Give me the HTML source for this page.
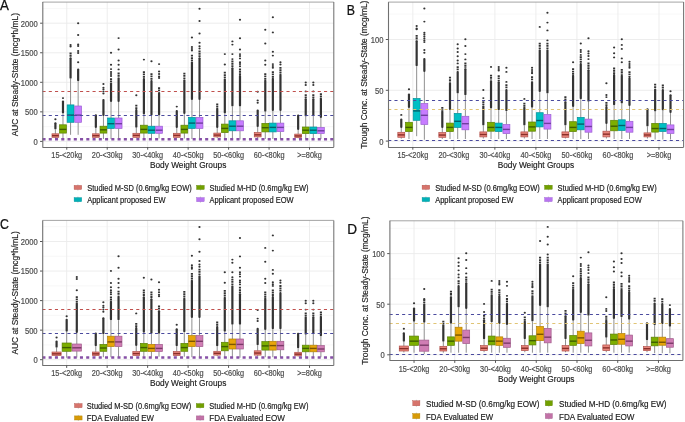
<!DOCTYPE html>
<html><head><meta charset="utf-8"><style>
html,body{margin:0;padding:0;background:#fff;width:685px;height:422px;overflow:hidden}
svg{display:block;font-family:"Liberation Sans", sans-serif}
svg{will-change:transform}
</style></head><body>
<svg width="685" height="422" viewBox="0 0 685 422">
<rect width="685" height="422" fill="#fff"/>
<rect x="42.5" y="2.1" width="291.3" height="145.2" fill="#fff"/>
<line x1="42.5" x2="333.8" y1="126.62" y2="126.62" stroke="#F2F2F2" stroke-width="0.6"/>
<line x1="42.5" x2="333.8" y1="97.08" y2="97.08" stroke="#F2F2F2" stroke-width="0.6"/>
<line x1="42.5" x2="333.8" y1="67.53" y2="67.53" stroke="#F2F2F2" stroke-width="0.6"/>
<line x1="42.5" x2="333.8" y1="37.98" y2="37.98" stroke="#F2F2F2" stroke-width="0.6"/>
<line x1="42.5" x2="333.8" y1="8.43" y2="8.43" stroke="#F2F2F2" stroke-width="0.6"/>
<line x1="42.5" x2="333.8" y1="141.4" y2="141.4" stroke="#EBEBEB" stroke-width="0.9"/>
<line x1="42.5" x2="333.8" y1="111.85" y2="111.85" stroke="#EBEBEB" stroke-width="0.9"/>
<line x1="42.5" x2="333.8" y1="82.3" y2="82.3" stroke="#EBEBEB" stroke-width="0.9"/>
<line x1="42.5" x2="333.8" y1="52.75" y2="52.75" stroke="#EBEBEB" stroke-width="0.9"/>
<line x1="42.5" x2="333.8" y1="23.2" y2="23.2" stroke="#EBEBEB" stroke-width="0.9"/>
<line x1="66.78" x2="66.78" y1="2.1" y2="147.3" stroke="#EBEBEB" stroke-width="0.9"/>
<line x1="107.23" x2="107.23" y1="2.1" y2="147.3" stroke="#EBEBEB" stroke-width="0.9"/>
<line x1="147.69" x2="147.69" y1="2.1" y2="147.3" stroke="#EBEBEB" stroke-width="0.9"/>
<line x1="188.15" x2="188.15" y1="2.1" y2="147.3" stroke="#EBEBEB" stroke-width="0.9"/>
<line x1="228.61" x2="228.61" y1="2.1" y2="147.3" stroke="#EBEBEB" stroke-width="0.9"/>
<line x1="269.07" x2="269.07" y1="2.1" y2="147.3" stroke="#EBEBEB" stroke-width="0.9"/>
<line x1="309.52" x2="309.52" y1="2.1" y2="147.3" stroke="#EBEBEB" stroke-width="0.9"/>
<rect x="54.3" y="122.3" width="2.2" height="7.2" rx="1" fill="#333"/>
<ellipse cx="55.4" cy="119.3" rx="1.1" ry="0.95" fill="#333"/>
<line x1="55.4" x2="55.4" y1="133.8" y2="129.5" stroke="#8A8A8A" stroke-width="0.95"/>
<line x1="55.4" x2="55.4" y1="137.3" y2="138.2" stroke="#8A8A8A" stroke-width="0.95"/>
<rect x="51.98" y="133.8" width="6.83" height="3.5" fill="#E8847A" stroke="#B0504A" stroke-width="0.7"/>
<line x1="51.98" x2="58.81" y1="135.65" y2="135.65" stroke="#8A2E28" stroke-width="1.4"/>
<rect x="61.88" y="100.6" width="2.2" height="12.9" rx="1" fill="#333"/>
<ellipse cx="62.98" cy="98.1" rx="1.1" ry="0.95" fill="#333"/>
<line x1="62.98" x2="62.98" y1="124.8" y2="113.5" stroke="#8A8A8A" stroke-width="0.95"/>
<line x1="62.98" x2="62.98" y1="133.1" y2="139.5" stroke="#8A8A8A" stroke-width="0.95"/>
<rect x="59.57" y="124.8" width="6.83" height="8.3" fill="#7CAE00" stroke="#5A8000" stroke-width="0.7"/>
<line x1="59.57" x2="66.4" y1="129.4" y2="129.4" stroke="#3E5C00" stroke-width="1.4"/>
<rect x="69.47" y="57.2" width="2.2" height="21.51" rx="1" fill="#333"/>
<line x1="70.57" x2="70.57" y1="52.6" y2="57.2" stroke="#333" stroke-width="2.1" stroke-dasharray="1.8 0.55"/>
<ellipse cx="70.57" cy="45" rx="1.1" ry="0.95" fill="#333"/>
<ellipse cx="70.57" cy="46.5" rx="1.1" ry="0.95" fill="#333"/>
<line x1="70.57" x2="70.57" y1="104.9" y2="78.7" stroke="#8A8A8A" stroke-width="0.95"/>
<line x1="70.57" x2="70.57" y1="122.3" y2="134.8" stroke="#8A8A8A" stroke-width="0.95"/>
<rect x="67.15" y="104.9" width="6.83" height="17.4" fill="#00BFC4" stroke="#00909A" stroke-width="0.7"/>
<line x1="67.15" x2="73.98" y1="115.1" y2="115.1" stroke="#00606A" stroke-width="1.4"/>
<rect x="77.05" y="68.4" width="2.2" height="12.8" rx="1" fill="#333"/>
<ellipse cx="78.15" cy="23.3" rx="1.1" ry="0.95" fill="#333"/>
<ellipse cx="78.15" cy="35" rx="1.1" ry="0.95" fill="#333"/>
<ellipse cx="78.15" cy="44.5" rx="1.1" ry="0.95" fill="#333"/>
<ellipse cx="78.15" cy="46" rx="1.1" ry="0.95" fill="#333"/>
<ellipse cx="78.15" cy="51" rx="1.1" ry="0.95" fill="#333"/>
<ellipse cx="78.15" cy="53" rx="1.1" ry="0.95" fill="#333"/>
<ellipse cx="78.15" cy="62.3" rx="1.1" ry="0.95" fill="#333"/>
<line x1="78.15" x2="78.15" y1="106" y2="81.2" stroke="#8A8A8A" stroke-width="0.95"/>
<line x1="78.15" x2="78.15" y1="122.3" y2="134.8" stroke="#8A8A8A" stroke-width="0.95"/>
<rect x="74.74" y="106" width="6.83" height="16.3" fill="#C77CFF" stroke="#9A60D0" stroke-width="0.7"/>
<line x1="74.74" x2="81.57" y1="115.1" y2="115.1" stroke="#6E3E9E" stroke-width="1.4"/>
<rect x="94.75" y="114.3" width="2.2" height="13.7" rx="1" fill="#333"/>
<line x1="95.85" x2="95.85" y1="133.8" y2="128" stroke="#8A8A8A" stroke-width="0.95"/>
<line x1="95.85" x2="95.85" y1="137.3" y2="138" stroke="#8A8A8A" stroke-width="0.95"/>
<rect x="92.44" y="133.8" width="6.83" height="3.5" fill="#E8847A" stroke="#B0504A" stroke-width="0.7"/>
<line x1="92.44" x2="99.27" y1="135.65" y2="135.65" stroke="#8A2E28" stroke-width="1.4"/>
<rect x="102.34" y="99" width="2.2" height="17" rx="1" fill="#333"/>
<ellipse cx="103.44" cy="93.5" rx="1.1" ry="0.95" fill="#333"/>
<ellipse cx="103.44" cy="91.4" rx="1.1" ry="0.95" fill="#333"/>
<ellipse cx="103.44" cy="89.3" rx="1.1" ry="0.95" fill="#333"/>
<ellipse cx="103.44" cy="87.6" rx="1.1" ry="0.95" fill="#333"/>
<ellipse cx="103.44" cy="84" rx="1.1" ry="0.95" fill="#333"/>
<line x1="103.44" x2="103.44" y1="126.2" y2="116" stroke="#8A8A8A" stroke-width="0.95"/>
<line x1="103.44" x2="103.44" y1="133.1" y2="139" stroke="#8A8A8A" stroke-width="0.95"/>
<rect x="100.03" y="126.2" width="6.83" height="6.9" fill="#7CAE00" stroke="#5A8000" stroke-width="0.7"/>
<line x1="100.03" x2="106.85" y1="129.8" y2="129.8" stroke="#3E5C00" stroke-width="1.4"/>
<rect x="109.93" y="82.45" width="2.2" height="19.55" rx="1" fill="#333"/>
<line x1="111.03" x2="111.03" y1="78.2" y2="82.45" stroke="#333" stroke-width="2.1" stroke-dasharray="1.8 0.55"/>
<ellipse cx="111.03" cy="52.7" rx="1.1" ry="0.95" fill="#333"/>
<ellipse cx="111.03" cy="64.8" rx="1.1" ry="0.95" fill="#333"/>
<ellipse cx="111.03" cy="69.1" rx="1.1" ry="0.95" fill="#333"/>
<ellipse cx="111.03" cy="72" rx="1.1" ry="0.95" fill="#333"/>
<ellipse cx="111.03" cy="74" rx="1.1" ry="0.95" fill="#333"/>
<ellipse cx="111.03" cy="76" rx="1.1" ry="0.95" fill="#333"/>
<line x1="111.03" x2="111.03" y1="118" y2="102" stroke="#8A8A8A" stroke-width="0.95"/>
<line x1="111.03" x2="111.03" y1="128.4" y2="139" stroke="#8A8A8A" stroke-width="0.95"/>
<rect x="107.61" y="118" width="6.83" height="10.4" fill="#00BFC4" stroke="#00909A" stroke-width="0.7"/>
<line x1="107.61" x2="114.44" y1="123.7" y2="123.7" stroke="#00606A" stroke-width="1.4"/>
<rect x="117.51" y="77.61" width="2.2" height="24.4" rx="1" fill="#333"/>
<line x1="118.61" x2="118.61" y1="72.5" y2="77.61" stroke="#333" stroke-width="2.1" stroke-dasharray="1.8 0.55"/>
<ellipse cx="118.61" cy="38.1" rx="1.1" ry="0.95" fill="#333"/>
<ellipse cx="118.61" cy="49.5" rx="1.1" ry="0.95" fill="#333"/>
<ellipse cx="118.61" cy="60.5" rx="1.1" ry="0.95" fill="#333"/>
<ellipse cx="118.61" cy="64.8" rx="1.1" ry="0.95" fill="#333"/>
<ellipse cx="118.61" cy="69.4" rx="1.1" ry="0.95" fill="#333"/>
<line x1="118.61" x2="118.61" y1="118" y2="102" stroke="#8A8A8A" stroke-width="0.95"/>
<line x1="118.61" x2="118.61" y1="128.4" y2="139" stroke="#8A8A8A" stroke-width="0.95"/>
<rect x="115.2" y="118" width="6.83" height="10.4" fill="#C77CFF" stroke="#9A60D0" stroke-width="0.7"/>
<line x1="115.2" x2="122.03" y1="123.7" y2="123.7" stroke="#6E3E9E" stroke-width="1.4"/>
<rect x="135.21" y="108.91" width="2.2" height="18.79" rx="1" fill="#333"/>
<line x1="136.31" x2="136.31" y1="104.8" y2="108.91" stroke="#333" stroke-width="2.1" stroke-dasharray="1.8 0.55"/>
<ellipse cx="136.31" cy="95.2" rx="1.1" ry="0.95" fill="#333"/>
<line x1="136.31" x2="136.31" y1="133.3" y2="127.7" stroke="#8A8A8A" stroke-width="0.95"/>
<line x1="136.31" x2="136.31" y1="137.3" y2="138" stroke="#8A8A8A" stroke-width="0.95"/>
<rect x="132.9" y="133.3" width="6.83" height="4" fill="#E8847A" stroke="#B0504A" stroke-width="0.7"/>
<line x1="132.9" x2="139.73" y1="135.4" y2="135.4" stroke="#8A2E28" stroke-width="1.4"/>
<rect x="142.8" y="78" width="2.2" height="36.5" rx="1" fill="#333"/>
<line x1="143.9" x2="143.9" y1="71.2" y2="78" stroke="#333" stroke-width="2.1" stroke-dasharray="1.8 0.55"/>
<ellipse cx="143.9" cy="59.6" rx="1.1" ry="0.95" fill="#333"/>
<line x1="143.9" x2="143.9" y1="125.2" y2="114.5" stroke="#8A8A8A" stroke-width="0.95"/>
<line x1="143.9" x2="143.9" y1="133.1" y2="138.5" stroke="#8A8A8A" stroke-width="0.95"/>
<rect x="140.49" y="125.2" width="6.83" height="7.9" fill="#7CAE00" stroke="#5A8000" stroke-width="0.7"/>
<line x1="140.49" x2="147.31" y1="129.4" y2="129.4" stroke="#3E5C00" stroke-width="1.4"/>
<rect x="150.38" y="80" width="2.2" height="35.5" rx="1" fill="#333"/>
<line x1="151.48" x2="151.48" y1="73.2" y2="80" stroke="#333" stroke-width="2.1" stroke-dasharray="1.8 0.55"/>
<ellipse cx="151.48" cy="61.3" rx="1.1" ry="0.95" fill="#333"/>
<line x1="151.48" x2="151.48" y1="126.2" y2="115.5" stroke="#8A8A8A" stroke-width="0.95"/>
<line x1="151.48" x2="151.48" y1="133.3" y2="138.5" stroke="#8A8A8A" stroke-width="0.95"/>
<rect x="148.07" y="126.2" width="6.83" height="7.1" fill="#00BFC4" stroke="#00909A" stroke-width="0.7"/>
<line x1="148.07" x2="154.9" y1="130.2" y2="130.2" stroke="#00606A" stroke-width="1.4"/>
<rect x="157.97" y="92.12" width="2.2" height="23.38" rx="1" fill="#333"/>
<line x1="159.07" x2="159.07" y1="87.2" y2="92.12" stroke="#333" stroke-width="2.1" stroke-dasharray="1.8 0.55"/>
<ellipse cx="159.07" cy="64.1" rx="1.1" ry="0.95" fill="#333"/>
<ellipse cx="159.07" cy="71.5" rx="1.1" ry="0.95" fill="#333"/>
<ellipse cx="159.07" cy="74" rx="1.1" ry="0.95" fill="#333"/>
<ellipse cx="159.07" cy="76.5" rx="1.1" ry="0.95" fill="#333"/>
<ellipse cx="159.07" cy="78" rx="1.1" ry="0.95" fill="#333"/>
<line x1="159.07" x2="159.07" y1="126.2" y2="115.5" stroke="#8A8A8A" stroke-width="0.95"/>
<line x1="159.07" x2="159.07" y1="133.3" y2="138.5" stroke="#8A8A8A" stroke-width="0.95"/>
<rect x="155.66" y="126.2" width="6.83" height="7.1" fill="#C77CFF" stroke="#9A60D0" stroke-width="0.7"/>
<line x1="155.66" x2="162.48" y1="130.2" y2="130.2" stroke="#6E3E9E" stroke-width="1.4"/>
<rect x="175.67" y="110" width="2.2" height="18" rx="1" fill="#333"/>
<ellipse cx="176.77" cy="106.6" rx="1.1" ry="0.95" fill="#333"/>
<line x1="176.77" x2="176.77" y1="133.3" y2="128" stroke="#8A8A8A" stroke-width="0.95"/>
<line x1="176.77" x2="176.77" y1="137.3" y2="138" stroke="#8A8A8A" stroke-width="0.95"/>
<rect x="173.36" y="133.3" width="6.83" height="4" fill="#E8847A" stroke="#B0504A" stroke-width="0.7"/>
<line x1="173.36" x2="180.18" y1="135.4" y2="135.4" stroke="#8A2E28" stroke-width="1.4"/>
<rect x="183.26" y="79.5" width="2.2" height="34.6" rx="1" fill="#333"/>
<line x1="184.36" x2="184.36" y1="72.7" y2="79.5" stroke="#333" stroke-width="2.1" stroke-dasharray="1.8 0.55"/>
<line x1="184.36" x2="184.36" y1="125.2" y2="114.1" stroke="#8A8A8A" stroke-width="0.95"/>
<line x1="184.36" x2="184.36" y1="133.1" y2="138.5" stroke="#8A8A8A" stroke-width="0.95"/>
<rect x="180.94" y="125.2" width="6.83" height="7.9" fill="#7CAE00" stroke="#5A8000" stroke-width="0.7"/>
<line x1="180.94" x2="187.77" y1="129.4" y2="129.4" stroke="#3E5C00" stroke-width="1.4"/>
<rect x="190.84" y="61.6" width="2.2" height="38.3" rx="1" fill="#333"/>
<line x1="191.94" x2="191.94" y1="54.8" y2="61.6" stroke="#333" stroke-width="2.1" stroke-dasharray="1.8 0.55"/>
<ellipse cx="191.94" cy="37.5" rx="1.1" ry="0.95" fill="#333"/>
<ellipse cx="191.94" cy="47" rx="1.1" ry="0.95" fill="#333"/>
<ellipse cx="191.94" cy="49" rx="1.1" ry="0.95" fill="#333"/>
<ellipse cx="191.94" cy="50.6" rx="1.1" ry="0.95" fill="#333"/>
<line x1="191.94" x2="191.94" y1="117.4" y2="99.9" stroke="#8A8A8A" stroke-width="0.95"/>
<line x1="191.94" x2="191.94" y1="128.4" y2="139" stroke="#8A8A8A" stroke-width="0.95"/>
<rect x="188.53" y="117.4" width="6.83" height="11" fill="#00BFC4" stroke="#00909A" stroke-width="0.7"/>
<line x1="188.53" x2="195.36" y1="123.1" y2="123.1" stroke="#00606A" stroke-width="1.4"/>
<rect x="198.43" y="57.3" width="2.2" height="42.6" rx="1" fill="#333"/>
<line x1="199.53" x2="199.53" y1="50.5" y2="57.3" stroke="#333" stroke-width="2.1" stroke-dasharray="1.8 0.55"/>
<ellipse cx="199.53" cy="8.8" rx="1.1" ry="0.95" fill="#333"/>
<ellipse cx="199.53" cy="21" rx="1.1" ry="0.95" fill="#333"/>
<ellipse cx="199.53" cy="33.5" rx="1.1" ry="0.95" fill="#333"/>
<ellipse cx="199.53" cy="42.8" rx="1.1" ry="0.95" fill="#333"/>
<ellipse cx="199.53" cy="46.3" rx="1.1" ry="0.95" fill="#333"/>
<ellipse cx="199.53" cy="48.5" rx="1.1" ry="0.95" fill="#333"/>
<line x1="199.53" x2="199.53" y1="117.4" y2="99.9" stroke="#8A8A8A" stroke-width="0.95"/>
<line x1="199.53" x2="199.53" y1="128.4" y2="139" stroke="#8A8A8A" stroke-width="0.95"/>
<rect x="196.12" y="117.4" width="6.83" height="11" fill="#C77CFF" stroke="#9A60D0" stroke-width="0.7"/>
<line x1="196.12" x2="202.94" y1="123.1" y2="123.1" stroke="#6E3E9E" stroke-width="1.4"/>
<rect x="216.13" y="107.77" width="2.2" height="20.23" rx="1" fill="#333"/>
<line x1="217.23" x2="217.23" y1="103.4" y2="107.77" stroke="#333" stroke-width="2.1" stroke-dasharray="1.8 0.55"/>
<line x1="217.23" x2="217.23" y1="133.1" y2="128" stroke="#8A8A8A" stroke-width="0.95"/>
<line x1="217.23" x2="217.23" y1="136.9" y2="138" stroke="#8A8A8A" stroke-width="0.95"/>
<rect x="213.82" y="133.1" width="6.83" height="3.8" fill="#E8847A" stroke="#B0504A" stroke-width="0.7"/>
<line x1="213.82" x2="220.64" y1="135.1" y2="135.1" stroke="#8A2E28" stroke-width="1.4"/>
<rect x="223.72" y="78.6" width="2.2" height="34.9" rx="1" fill="#333"/>
<line x1="224.82" x2="224.82" y1="71.8" y2="78.6" stroke="#333" stroke-width="2.1" stroke-dasharray="1.8 0.55"/>
<ellipse cx="224.82" cy="54.1" rx="1.1" ry="0.95" fill="#333"/>
<ellipse cx="224.82" cy="64.5" rx="1.1" ry="0.95" fill="#333"/>
<line x1="224.82" x2="224.82" y1="124.1" y2="113.5" stroke="#8A8A8A" stroke-width="0.95"/>
<line x1="224.82" x2="224.82" y1="132.6" y2="139" stroke="#8A8A8A" stroke-width="0.95"/>
<rect x="221.4" y="124.1" width="6.83" height="8.5" fill="#7CAE00" stroke="#5A8000" stroke-width="0.7"/>
<line x1="221.4" x2="228.23" y1="128.4" y2="128.4" stroke="#3E5C00" stroke-width="1.4"/>
<rect x="231.3" y="67.3" width="2.2" height="39.2" rx="1" fill="#333"/>
<line x1="232.4" x2="232.4" y1="60.5" y2="67.3" stroke="#333" stroke-width="2.1" stroke-dasharray="1.8 0.55"/>
<ellipse cx="232.4" cy="41.4" rx="1.1" ry="0.95" fill="#333"/>
<ellipse cx="232.4" cy="44.6" rx="1.1" ry="0.95" fill="#333"/>
<ellipse cx="232.4" cy="54.1" rx="1.1" ry="0.95" fill="#333"/>
<ellipse cx="232.4" cy="59.1" rx="1.1" ry="0.95" fill="#333"/>
<line x1="232.4" x2="232.4" y1="120.8" y2="106.5" stroke="#8A8A8A" stroke-width="0.95"/>
<line x1="232.4" x2="232.4" y1="130.8" y2="139.5" stroke="#8A8A8A" stroke-width="0.95"/>
<rect x="228.99" y="120.8" width="6.83" height="10" fill="#00BFC4" stroke="#00909A" stroke-width="0.7"/>
<line x1="228.99" x2="235.81" y1="126.2" y2="126.2" stroke="#00606A" stroke-width="1.4"/>
<rect x="238.89" y="74.97" width="2.2" height="31.53" rx="1" fill="#333"/>
<line x1="239.99" x2="239.99" y1="68.6" y2="74.97" stroke="#333" stroke-width="2.1" stroke-dasharray="1.8 0.55"/>
<ellipse cx="239.99" cy="19.8" rx="1.1" ry="0.95" fill="#333"/>
<ellipse cx="239.99" cy="38.2" rx="1.1" ry="0.95" fill="#333"/>
<ellipse cx="239.99" cy="49.5" rx="1.1" ry="0.95" fill="#333"/>
<ellipse cx="239.99" cy="54.1" rx="1.1" ry="0.95" fill="#333"/>
<ellipse cx="239.99" cy="56" rx="1.1" ry="0.95" fill="#333"/>
<ellipse cx="239.99" cy="58.4" rx="1.1" ry="0.95" fill="#333"/>
<ellipse cx="239.99" cy="62.3" rx="1.1" ry="0.95" fill="#333"/>
<ellipse cx="239.99" cy="64" rx="1.1" ry="0.95" fill="#333"/>
<ellipse cx="239.99" cy="66.2" rx="1.1" ry="0.95" fill="#333"/>
<line x1="239.99" x2="239.99" y1="120.8" y2="106.5" stroke="#8A8A8A" stroke-width="0.95"/>
<line x1="239.99" x2="239.99" y1="130.8" y2="139.5" stroke="#8A8A8A" stroke-width="0.95"/>
<rect x="236.57" y="120.8" width="6.83" height="10" fill="#C77CFF" stroke="#9A60D0" stroke-width="0.7"/>
<line x1="236.57" x2="243.4" y1="126.2" y2="126.2" stroke="#6E3E9E" stroke-width="1.4"/>
<rect x="256.59" y="109.5" width="2.2" height="17.5" rx="1" fill="#333"/>
<ellipse cx="257.69" cy="91.8" rx="1.1" ry="0.95" fill="#333"/>
<ellipse cx="257.69" cy="100.4" rx="1.1" ry="0.95" fill="#333"/>
<ellipse cx="257.69" cy="102.8" rx="1.1" ry="0.95" fill="#333"/>
<line x1="257.69" x2="257.69" y1="132.6" y2="127" stroke="#8A8A8A" stroke-width="0.95"/>
<line x1="257.69" x2="257.69" y1="136.9" y2="138" stroke="#8A8A8A" stroke-width="0.95"/>
<rect x="254.27" y="132.6" width="6.83" height="4.3" fill="#E8847A" stroke="#B0504A" stroke-width="0.7"/>
<line x1="254.27" x2="261.1" y1="134.85" y2="134.85" stroke="#8A2E28" stroke-width="1.4"/>
<rect x="264.17" y="79.66" width="2.2" height="32.05" rx="1" fill="#333"/>
<line x1="265.27" x2="265.27" y1="73.2" y2="79.66" stroke="#333" stroke-width="2.1" stroke-dasharray="1.8 0.55"/>
<ellipse cx="265.27" cy="29.7" rx="1.1" ry="0.95" fill="#333"/>
<ellipse cx="265.27" cy="43.5" rx="1.1" ry="0.95" fill="#333"/>
<ellipse cx="265.27" cy="60.5" rx="1.1" ry="0.95" fill="#333"/>
<ellipse cx="265.27" cy="64.8" rx="1.1" ry="0.95" fill="#333"/>
<line x1="265.27" x2="265.27" y1="123.4" y2="111.7" stroke="#8A8A8A" stroke-width="0.95"/>
<line x1="265.27" x2="265.27" y1="131.9" y2="139" stroke="#8A8A8A" stroke-width="0.95"/>
<rect x="261.86" y="123.4" width="6.83" height="8.5" fill="#7CAE00" stroke="#5A8000" stroke-width="0.7"/>
<line x1="261.86" x2="268.69" y1="127.7" y2="127.7" stroke="#3E5C00" stroke-width="1.4"/>
<rect x="271.76" y="77.85" width="2.2" height="33.15" rx="1" fill="#333"/>
<line x1="272.86" x2="272.86" y1="71.2" y2="77.85" stroke="#333" stroke-width="2.1" stroke-dasharray="1.8 0.55"/>
<ellipse cx="272.86" cy="17.2" rx="1.1" ry="0.95" fill="#333"/>
<ellipse cx="272.86" cy="32.4" rx="1.1" ry="0.95" fill="#333"/>
<ellipse cx="272.86" cy="51.7" rx="1.1" ry="0.95" fill="#333"/>
<ellipse cx="272.86" cy="55.6" rx="1.1" ry="0.95" fill="#333"/>
<ellipse cx="272.86" cy="64.1" rx="1.1" ry="0.95" fill="#333"/>
<ellipse cx="272.86" cy="66" rx="1.1" ry="0.95" fill="#333"/>
<ellipse cx="272.86" cy="67.7" rx="1.1" ry="0.95" fill="#333"/>
<line x1="272.86" x2="272.86" y1="123.1" y2="111" stroke="#8A8A8A" stroke-width="0.95"/>
<line x1="272.86" x2="272.86" y1="131.9" y2="139" stroke="#8A8A8A" stroke-width="0.95"/>
<rect x="269.45" y="123.1" width="6.83" height="8.8" fill="#00BFC4" stroke="#00909A" stroke-width="0.7"/>
<line x1="269.45" x2="276.27" y1="127.4" y2="127.4" stroke="#00606A" stroke-width="1.4"/>
<rect x="279.35" y="73.7" width="2.2" height="37.3" rx="1" fill="#333"/>
<line x1="280.45" x2="280.45" y1="66.9" y2="73.7" stroke="#333" stroke-width="2.1" stroke-dasharray="1.8 0.55"/>
<ellipse cx="280.45" cy="62.3" rx="1.1" ry="0.95" fill="#333"/>
<ellipse cx="280.45" cy="64.5" rx="1.1" ry="0.95" fill="#333"/>
<line x1="280.45" x2="280.45" y1="123.1" y2="111" stroke="#8A8A8A" stroke-width="0.95"/>
<line x1="280.45" x2="280.45" y1="131.6" y2="139" stroke="#8A8A8A" stroke-width="0.95"/>
<rect x="277.03" y="123.1" width="6.83" height="8.5" fill="#C77CFF" stroke="#9A60D0" stroke-width="0.7"/>
<line x1="277.03" x2="283.86" y1="127.4" y2="127.4" stroke="#6E3E9E" stroke-width="1.4"/>
<rect x="297.05" y="114.5" width="2.2" height="15.5" rx="1" fill="#333"/>
<line x1="298.15" x2="298.15" y1="134.1" y2="130" stroke="#8A8A8A" stroke-width="0.95"/>
<line x1="298.15" x2="298.15" y1="137.6" y2="138.3" stroke="#8A8A8A" stroke-width="0.95"/>
<rect x="294.73" y="134.1" width="6.83" height="3.5" fill="#E8847A" stroke="#B0504A" stroke-width="0.7"/>
<line x1="294.73" x2="301.56" y1="135.95" y2="135.95" stroke="#8A2E28" stroke-width="1.4"/>
<rect x="304.63" y="98.22" width="2.2" height="18.27" rx="1" fill="#333"/>
<line x1="305.73" x2="305.73" y1="94.2" y2="98.22" stroke="#333" stroke-width="2.1" stroke-dasharray="1.8 0.55"/>
<ellipse cx="305.73" cy="82.5" rx="1.1" ry="0.95" fill="#333"/>
<ellipse cx="305.73" cy="85" rx="1.1" ry="0.95" fill="#333"/>
<ellipse cx="305.73" cy="91.4" rx="1.1" ry="0.95" fill="#333"/>
<line x1="305.73" x2="305.73" y1="127" y2="116.5" stroke="#8A8A8A" stroke-width="0.95"/>
<line x1="305.73" x2="305.73" y1="133.6" y2="139" stroke="#8A8A8A" stroke-width="0.95"/>
<rect x="302.32" y="127" width="6.83" height="6.6" fill="#7CAE00" stroke="#5A8000" stroke-width="0.7"/>
<line x1="302.32" x2="309.15" y1="130.2" y2="130.2" stroke="#3E5C00" stroke-width="1.4"/>
<rect x="312.22" y="98.15" width="2.2" height="17.85" rx="1" fill="#333"/>
<line x1="313.32" x2="313.32" y1="94.2" y2="98.15" stroke="#333" stroke-width="2.1" stroke-dasharray="1.8 0.55"/>
<ellipse cx="313.32" cy="82.5" rx="1.1" ry="0.95" fill="#333"/>
<ellipse cx="313.32" cy="85" rx="1.1" ry="0.95" fill="#333"/>
<ellipse cx="313.32" cy="91.4" rx="1.1" ry="0.95" fill="#333"/>
<line x1="313.32" x2="313.32" y1="127" y2="116" stroke="#8A8A8A" stroke-width="0.95"/>
<line x1="313.32" x2="313.32" y1="133.6" y2="139" stroke="#8A8A8A" stroke-width="0.95"/>
<rect x="309.9" y="127" width="6.83" height="6.6" fill="#00BFC4" stroke="#00909A" stroke-width="0.7"/>
<line x1="309.9" x2="316.73" y1="130.2" y2="130.2" stroke="#00606A" stroke-width="1.4"/>
<rect x="319.8" y="97.6" width="2.2" height="20.4" rx="1" fill="#333"/>
<line x1="320.9" x2="320.9" y1="93.2" y2="97.6" stroke="#333" stroke-width="2.1" stroke-dasharray="1.8 0.55"/>
<line x1="320.9" x2="320.9" y1="127.4" y2="118" stroke="#8A8A8A" stroke-width="0.95"/>
<line x1="320.9" x2="320.9" y1="133.6" y2="139" stroke="#8A8A8A" stroke-width="0.95"/>
<rect x="317.49" y="127.4" width="6.83" height="6.2" fill="#C77CFF" stroke="#9A60D0" stroke-width="0.7"/>
<line x1="317.49" x2="324.32" y1="130.8" y2="130.8" stroke="#6E3E9E" stroke-width="1.4"/>
<line x1="42.5" x2="333.8" y1="91.5" y2="91.5" stroke="#C0504D" stroke-width="1.0" stroke-dasharray="3.1 3.156"/>
<line x1="42.5" x2="333.8" y1="115.5" y2="115.5" stroke="#4A4A9E" stroke-width="1.0" stroke-dasharray="3.1 3.156"/>
<line x1="42.5" x2="333.8" y1="139.27" y2="139.27" stroke="#8650A6" stroke-width="2.5" stroke-dasharray="3.05 3.206"/>
<line x1="42.5" x2="333.8" y1="2.1" y2="2.1" stroke="#9A9A9A" stroke-width="0.9"/>
<line x1="333.8" x2="333.8" y1="2.1" y2="147.3" stroke="#727272" stroke-width="1.05"/>
<line x1="42.8" x2="42.8" y1="2.1" y2="147.3" stroke="#707070" stroke-width="1.1"/>
<line x1="42.5" x2="333.8" y1="147.5" y2="147.5" stroke="#6E6E6E" stroke-width="1.1"/>
<line x1="40.1" x2="42.5" y1="141.4" y2="141.4" stroke="#444" stroke-width="0.9"/>
<text transform="translate(37.7,144.8) scale(1,1.12)" font-size="7.6" fill="#4D4D4D" stroke="#4D4D4D" stroke-width="0.18" text-anchor="end">0</text>
<line x1="40.1" x2="42.5" y1="111.85" y2="111.85" stroke="#444" stroke-width="0.9"/>
<text transform="translate(37.7,115.25) scale(1,1.12)" font-size="7.6" fill="#4D4D4D" stroke="#4D4D4D" stroke-width="0.18" text-anchor="end">500</text>
<line x1="40.1" x2="42.5" y1="82.3" y2="82.3" stroke="#444" stroke-width="0.9"/>
<text transform="translate(37.7,85.7) scale(1,1.12)" font-size="7.6" fill="#4D4D4D" stroke="#4D4D4D" stroke-width="0.18" text-anchor="end">1000</text>
<line x1="40.1" x2="42.5" y1="52.75" y2="52.75" stroke="#444" stroke-width="0.9"/>
<text transform="translate(37.7,56.15) scale(1,1.12)" font-size="7.6" fill="#4D4D4D" stroke="#4D4D4D" stroke-width="0.18" text-anchor="end">1500</text>
<line x1="40.1" x2="42.5" y1="23.2" y2="23.2" stroke="#444" stroke-width="0.9"/>
<text transform="translate(37.7,26.6) scale(1,1.12)" font-size="7.6" fill="#4D4D4D" stroke="#4D4D4D" stroke-width="0.18" text-anchor="end">2000</text>
<line x1="66.78" x2="66.78" y1="147.3" y2="149.7" stroke="#444" stroke-width="0.9"/>
<text transform="translate(66.78,158.2) scale(1,1.12)" font-size="7.35" fill="#4D4D4D" stroke="#4D4D4D" stroke-width="0.18" text-anchor="middle">15-&lt;20kg</text>
<line x1="107.23" x2="107.23" y1="147.3" y2="149.7" stroke="#444" stroke-width="0.9"/>
<text transform="translate(107.23,158.2) scale(1,1.12)" font-size="7.35" fill="#4D4D4D" stroke="#4D4D4D" stroke-width="0.18" text-anchor="middle">20-&lt;30kg</text>
<line x1="147.69" x2="147.69" y1="147.3" y2="149.7" stroke="#444" stroke-width="0.9"/>
<text transform="translate(147.69,158.2) scale(1,1.12)" font-size="7.35" fill="#4D4D4D" stroke="#4D4D4D" stroke-width="0.18" text-anchor="middle">30-&lt;40kg</text>
<line x1="188.15" x2="188.15" y1="147.3" y2="149.7" stroke="#444" stroke-width="0.9"/>
<text transform="translate(188.15,158.2) scale(1,1.12)" font-size="7.35" fill="#4D4D4D" stroke="#4D4D4D" stroke-width="0.18" text-anchor="middle">40-&lt;50kg</text>
<line x1="228.61" x2="228.61" y1="147.3" y2="149.7" stroke="#444" stroke-width="0.9"/>
<text transform="translate(228.61,158.2) scale(1,1.12)" font-size="7.35" fill="#4D4D4D" stroke="#4D4D4D" stroke-width="0.18" text-anchor="middle">50-&lt;60kg</text>
<line x1="269.07" x2="269.07" y1="147.3" y2="149.7" stroke="#444" stroke-width="0.9"/>
<text transform="translate(269.07,158.2) scale(1,1.12)" font-size="7.35" fill="#4D4D4D" stroke="#4D4D4D" stroke-width="0.18" text-anchor="middle">60-&lt;80kg</text>
<line x1="309.52" x2="309.52" y1="147.3" y2="149.7" stroke="#444" stroke-width="0.9"/>
<text transform="translate(309.52,158.2) scale(1,1.12)" font-size="7.35" fill="#4D4D4D" stroke="#4D4D4D" stroke-width="0.18" text-anchor="middle">&gt;=80kg</text>
<text x="188.15" y="167.8" font-size="8.3" fill="#1A1A1A" stroke="#1A1A1A" stroke-width="0.15" text-anchor="middle">Body Weight Groups</text>
<text transform="translate(18,74.7) rotate(-90)" x="0" y="0" font-size="8.4" fill="#1A1A1A" stroke="#1A1A1A" stroke-width="0.15" text-anchor="middle">AUC at Steady-State (mcg*h/mL)</text>
<text transform="translate(0.1,9.8) scale(0.95,1)" font-size="14" fill="#111" stroke="#111" stroke-width="0.25">A</text>
<line x1="77.9" x2="77.9" y1="184.4" y2="190.5" stroke="#AAA" stroke-width="0.6"/>
<rect x="74.1" y="185.4" width="7.6" height="4.1" fill="#D7746C" stroke="#B0504A" stroke-width="0.4"/>
<text transform="translate(87.2,190.8) scale(1,1.1)" font-size="7.5" fill="#1A1A1A" stroke="#1A1A1A" stroke-width="0.15">Studied M-SD (0.6mg/kg EOW)</text>
<line x1="200.4" x2="200.4" y1="184.4" y2="190.5" stroke="#AAA" stroke-width="0.6"/>
<rect x="196.6" y="185.4" width="7.6" height="4.1" fill="#72A000" stroke="#5A8000" stroke-width="0.4"/>
<text transform="translate(209.5,190.8) scale(1,1.1)" font-size="7.5" fill="#1A1A1A" stroke="#1A1A1A" stroke-width="0.15">Studied M-HD (0.6mg/kg EW)</text>
<line x1="77.9" x2="77.9" y1="196.6" y2="202.7" stroke="#AAA" stroke-width="0.6"/>
<rect x="74.1" y="197.6" width="7.6" height="4.1" fill="#00B1B7" stroke="#00909A" stroke-width="0.4"/>
<text transform="translate(87.2,203) scale(1,1.1)" font-size="7.5" fill="#1A1A1A" stroke="#1A1A1A" stroke-width="0.15">Applicant proposed EW</text>
<line x1="200.4" x2="200.4" y1="196.6" y2="202.7" stroke="#AAA" stroke-width="0.6"/>
<rect x="196.6" y="197.6" width="7.6" height="4.1" fill="#B974F1" stroke="#9A60D0" stroke-width="0.4"/>
<text transform="translate(209.5,203) scale(1,1.1)" font-size="7.5" fill="#1A1A1A" stroke="#1A1A1A" stroke-width="0.15">Applicant proposed EOW</text>
<rect x="388.2" y="2.1" width="295.4" height="145.2" fill="#fff"/>
<line x1="388.2" x2="683.6" y1="115.7" y2="115.7" stroke="#F2F2F2" stroke-width="0.6"/>
<line x1="388.2" x2="683.6" y1="64.9" y2="64.9" stroke="#F2F2F2" stroke-width="0.6"/>
<line x1="388.2" x2="683.6" y1="14.1" y2="14.1" stroke="#F2F2F2" stroke-width="0.6"/>
<line x1="388.2" x2="683.6" y1="141.1" y2="141.1" stroke="#EBEBEB" stroke-width="0.9"/>
<line x1="388.2" x2="683.6" y1="90.3" y2="90.3" stroke="#EBEBEB" stroke-width="0.9"/>
<line x1="388.2" x2="683.6" y1="39.5" y2="39.5" stroke="#EBEBEB" stroke-width="0.9"/>
<line x1="412.82" x2="412.82" y1="2.1" y2="147.3" stroke="#EBEBEB" stroke-width="0.9"/>
<line x1="453.84" x2="453.84" y1="2.1" y2="147.3" stroke="#EBEBEB" stroke-width="0.9"/>
<line x1="494.87" x2="494.87" y1="2.1" y2="147.3" stroke="#EBEBEB" stroke-width="0.9"/>
<line x1="535.9" x2="535.9" y1="2.1" y2="147.3" stroke="#EBEBEB" stroke-width="0.9"/>
<line x1="576.93" x2="576.93" y1="2.1" y2="147.3" stroke="#EBEBEB" stroke-width="0.9"/>
<line x1="617.96" x2="617.96" y1="2.1" y2="147.3" stroke="#EBEBEB" stroke-width="0.9"/>
<line x1="658.98" x2="658.98" y1="2.1" y2="147.3" stroke="#EBEBEB" stroke-width="0.9"/>
<rect x="400.18" y="118.5" width="2.2" height="9.5" rx="1" fill="#333"/>
<ellipse cx="401.28" cy="114.9" rx="1.1" ry="0.95" fill="#333"/>
<line x1="401.28" x2="401.28" y1="132.3" y2="128" stroke="#8A8A8A" stroke-width="0.95"/>
<line x1="401.28" x2="401.28" y1="137.3" y2="138.7" stroke="#8A8A8A" stroke-width="0.95"/>
<rect x="397.82" y="132.3" width="6.92" height="5" fill="#E8847A" stroke="#B0504A" stroke-width="0.7"/>
<line x1="397.82" x2="404.74" y1="134.9" y2="134.9" stroke="#8A2E28" stroke-width="1.4"/>
<rect x="407.87" y="93.5" width="2.2" height="14.5" rx="1" fill="#333"/>
<ellipse cx="408.97" cy="89.3" rx="1.1" ry="0.95" fill="#333"/>
<line x1="408.97" x2="408.97" y1="122.3" y2="108" stroke="#8A8A8A" stroke-width="0.95"/>
<line x1="408.97" x2="408.97" y1="131.6" y2="139" stroke="#8A8A8A" stroke-width="0.95"/>
<rect x="405.51" y="122.3" width="6.92" height="9.3" fill="#7CAE00" stroke="#5A8000" stroke-width="0.7"/>
<line x1="405.51" x2="412.43" y1="127.4" y2="127.4" stroke="#3E5C00" stroke-width="1.4"/>
<rect x="415.56" y="40.28" width="2.2" height="25.93" rx="1" fill="#333"/>
<line x1="416.66" x2="416.66" y1="34.9" y2="40.28" stroke="#333" stroke-width="2.1" stroke-dasharray="1.8 0.55"/>
<ellipse cx="416.66" cy="26" rx="1.1" ry="0.95" fill="#333"/>
<ellipse cx="416.66" cy="28.5" rx="1.1" ry="0.95" fill="#333"/>
<ellipse cx="416.66" cy="29.3" rx="1.1" ry="0.95" fill="#333"/>
<line x1="416.66" x2="416.66" y1="98.5" y2="66.2" stroke="#8A8A8A" stroke-width="0.95"/>
<line x1="416.66" x2="416.66" y1="120.3" y2="136.2" stroke="#8A8A8A" stroke-width="0.95"/>
<rect x="413.2" y="98.5" width="6.92" height="21.8" fill="#00BFC4" stroke="#00909A" stroke-width="0.7"/>
<line x1="413.2" x2="420.12" y1="110.9" y2="110.9" stroke="#00606A" stroke-width="1.4"/>
<rect x="423.26" y="58" width="2.2" height="14" rx="1" fill="#333"/>
<ellipse cx="424.36" cy="8.5" rx="1.1" ry="0.95" fill="#333"/>
<ellipse cx="424.36" cy="21.6" rx="1.1" ry="0.95" fill="#333"/>
<ellipse cx="424.36" cy="32.8" rx="1.1" ry="0.95" fill="#333"/>
<ellipse cx="424.36" cy="34.5" rx="1.1" ry="0.95" fill="#333"/>
<ellipse cx="424.36" cy="36.5" rx="1.1" ry="0.95" fill="#333"/>
<ellipse cx="424.36" cy="38.5" rx="1.1" ry="0.95" fill="#333"/>
<ellipse cx="424.36" cy="40.5" rx="1.1" ry="0.95" fill="#333"/>
<ellipse cx="424.36" cy="42.1" rx="1.1" ry="0.95" fill="#333"/>
<ellipse cx="424.36" cy="50" rx="1.1" ry="0.95" fill="#333"/>
<ellipse cx="424.36" cy="52.7" rx="1.1" ry="0.95" fill="#333"/>
<line x1="424.36" x2="424.36" y1="103.5" y2="72" stroke="#8A8A8A" stroke-width="0.95"/>
<line x1="424.36" x2="424.36" y1="124.5" y2="139.7" stroke="#8A8A8A" stroke-width="0.95"/>
<rect x="420.89" y="103.5" width="6.92" height="21" fill="#C77CFF" stroke="#9A60D0" stroke-width="0.7"/>
<line x1="420.89" x2="427.82" y1="115.3" y2="115.3" stroke="#6E3E9E" stroke-width="1.4"/>
<rect x="441.21" y="110.75" width="2.2" height="17.25" rx="1" fill="#333"/>
<line x1="442.31" x2="442.31" y1="106.9" y2="110.75" stroke="#333" stroke-width="2.1" stroke-dasharray="1.8 0.55"/>
<line x1="442.31" x2="442.31" y1="132.6" y2="128" stroke="#8A8A8A" stroke-width="0.95"/>
<line x1="442.31" x2="442.31" y1="137.3" y2="139" stroke="#8A8A8A" stroke-width="0.95"/>
<rect x="438.84" y="132.6" width="6.92" height="4.7" fill="#E8847A" stroke="#B0504A" stroke-width="0.7"/>
<line x1="438.84" x2="445.77" y1="135.05" y2="135.05" stroke="#8A2E28" stroke-width="1.4"/>
<rect x="448.9" y="82.46" width="2.2" height="27.54" rx="1" fill="#333"/>
<line x1="450" x2="450" y1="76.8" y2="82.46" stroke="#333" stroke-width="2.1" stroke-dasharray="1.8 0.55"/>
<line x1="450" x2="450" y1="123.1" y2="110" stroke="#8A8A8A" stroke-width="0.95"/>
<line x1="450" x2="450" y1="131.6" y2="139" stroke="#8A8A8A" stroke-width="0.95"/>
<rect x="446.54" y="123.1" width="6.92" height="8.5" fill="#7CAE00" stroke="#5A8000" stroke-width="0.7"/>
<line x1="446.54" x2="453.46" y1="127.4" y2="127.4" stroke="#3E5C00" stroke-width="1.4"/>
<rect x="456.59" y="70.97" width="2.2" height="22.52" rx="1" fill="#333"/>
<line x1="457.69" x2="457.69" y1="66.2" y2="70.97" stroke="#333" stroke-width="2.1" stroke-dasharray="1.8 0.55"/>
<ellipse cx="457.69" cy="44.2" rx="1.1" ry="0.95" fill="#333"/>
<ellipse cx="457.69" cy="48.5" rx="1.1" ry="0.95" fill="#333"/>
<ellipse cx="457.69" cy="52" rx="1.1" ry="0.95" fill="#333"/>
<ellipse cx="457.69" cy="56.3" rx="1.1" ry="0.95" fill="#333"/>
<ellipse cx="457.69" cy="60.5" rx="1.1" ry="0.95" fill="#333"/>
<ellipse cx="457.69" cy="63.4" rx="1.1" ry="0.95" fill="#333"/>
<line x1="457.69" x2="457.69" y1="113.4" y2="93.5" stroke="#8A8A8A" stroke-width="0.95"/>
<line x1="457.69" x2="457.69" y1="127.4" y2="139" stroke="#8A8A8A" stroke-width="0.95"/>
<rect x="454.23" y="113.4" width="6.92" height="14" fill="#00BFC4" stroke="#00909A" stroke-width="0.7"/>
<line x1="454.23" x2="461.15" y1="121.3" y2="121.3" stroke="#00606A" stroke-width="1.4"/>
<rect x="464.28" y="68.17" width="2.2" height="27.03" rx="1" fill="#333"/>
<line x1="465.38" x2="465.38" y1="62.6" y2="68.17" stroke="#333" stroke-width="2.1" stroke-dasharray="1.8 0.55"/>
<ellipse cx="465.38" cy="39.2" rx="1.1" ry="0.95" fill="#333"/>
<ellipse cx="465.38" cy="46" rx="1.1" ry="0.95" fill="#333"/>
<ellipse cx="465.38" cy="54.1" rx="1.1" ry="0.95" fill="#333"/>
<ellipse cx="465.38" cy="59.4" rx="1.1" ry="0.95" fill="#333"/>
<line x1="465.38" x2="465.38" y1="116.3" y2="95.2" stroke="#8A8A8A" stroke-width="0.95"/>
<line x1="465.38" x2="465.38" y1="129.8" y2="139" stroke="#8A8A8A" stroke-width="0.95"/>
<rect x="461.92" y="116.3" width="6.92" height="13.5" fill="#C77CFF" stroke="#9A60D0" stroke-width="0.7"/>
<line x1="461.92" x2="468.85" y1="123.7" y2="123.7" stroke="#6E3E9E" stroke-width="1.4"/>
<rect x="482.23" y="105.53" width="2.2" height="19.98" rx="1" fill="#333"/>
<line x1="483.33" x2="483.33" y1="101.2" y2="105.53" stroke="#333" stroke-width="2.1" stroke-dasharray="1.8 0.55"/>
<ellipse cx="483.33" cy="90" rx="1.1" ry="0.95" fill="#333"/>
<ellipse cx="483.33" cy="98.1" rx="1.1" ry="0.95" fill="#333"/>
<line x1="483.33" x2="483.33" y1="131.9" y2="125.5" stroke="#8A8A8A" stroke-width="0.95"/>
<line x1="483.33" x2="483.33" y1="136.9" y2="138.5" stroke="#8A8A8A" stroke-width="0.95"/>
<rect x="479.87" y="131.9" width="6.92" height="5" fill="#E8847A" stroke="#B0504A" stroke-width="0.7"/>
<line x1="479.87" x2="486.79" y1="134.5" y2="134.5" stroke="#8A2E28" stroke-width="1.4"/>
<rect x="489.93" y="80.45" width="2.2" height="28.05" rx="1" fill="#333"/>
<line x1="491.03" x2="491.03" y1="74.7" y2="80.45" stroke="#333" stroke-width="2.1" stroke-dasharray="1.8 0.55"/>
<ellipse cx="491.03" cy="66.9" rx="1.1" ry="0.95" fill="#333"/>
<line x1="491.03" x2="491.03" y1="122.3" y2="108.5" stroke="#8A8A8A" stroke-width="0.95"/>
<line x1="491.03" x2="491.03" y1="131.2" y2="139" stroke="#8A8A8A" stroke-width="0.95"/>
<rect x="487.56" y="122.3" width="6.92" height="8.9" fill="#7CAE00" stroke="#5A8000" stroke-width="0.7"/>
<line x1="487.56" x2="494.49" y1="127.4" y2="127.4" stroke="#3E5C00" stroke-width="1.4"/>
<rect x="497.62" y="81.14" width="2.2" height="29.15" rx="1" fill="#333"/>
<line x1="498.72" x2="498.72" y1="75.2" y2="81.14" stroke="#333" stroke-width="2.1" stroke-dasharray="1.8 0.55"/>
<ellipse cx="498.72" cy="67" rx="1.1" ry="0.95" fill="#333"/>
<ellipse cx="498.72" cy="69" rx="1.1" ry="0.95" fill="#333"/>
<ellipse cx="498.72" cy="70.5" rx="1.1" ry="0.95" fill="#333"/>
<line x1="498.72" x2="498.72" y1="123.1" y2="110.3" stroke="#8A8A8A" stroke-width="0.95"/>
<line x1="498.72" x2="498.72" y1="131.6" y2="139" stroke="#8A8A8A" stroke-width="0.95"/>
<rect x="495.26" y="123.1" width="6.92" height="8.5" fill="#00BFC4" stroke="#00909A" stroke-width="0.7"/>
<line x1="495.26" x2="502.18" y1="127.4" y2="127.4" stroke="#00606A" stroke-width="1.4"/>
<rect x="505.31" y="88.94" width="2.2" height="22.35" rx="1" fill="#333"/>
<line x1="506.41" x2="506.41" y1="84.2" y2="88.94" stroke="#333" stroke-width="2.1" stroke-dasharray="1.8 0.55"/>
<ellipse cx="506.41" cy="67.7" rx="1.1" ry="0.95" fill="#333"/>
<ellipse cx="506.41" cy="71.9" rx="1.1" ry="0.95" fill="#333"/>
<ellipse cx="506.41" cy="81.9" rx="1.1" ry="0.95" fill="#333"/>
<line x1="506.41" x2="506.41" y1="124.5" y2="111.3" stroke="#8A8A8A" stroke-width="0.95"/>
<line x1="506.41" x2="506.41" y1="133.6" y2="139" stroke="#8A8A8A" stroke-width="0.95"/>
<rect x="502.95" y="124.5" width="6.92" height="9.1" fill="#C77CFF" stroke="#9A60D0" stroke-width="0.7"/>
<line x1="502.95" x2="509.87" y1="129.4" y2="129.4" stroke="#6E3E9E" stroke-width="1.4"/>
<rect x="523.26" y="106.8" width="2.2" height="18.7" rx="1" fill="#333"/>
<line x1="524.36" x2="524.36" y1="102.7" y2="106.8" stroke="#333" stroke-width="2.1" stroke-dasharray="1.8 0.55"/>
<ellipse cx="524.36" cy="98.9" rx="1.1" ry="0.95" fill="#333"/>
<line x1="524.36" x2="524.36" y1="131.9" y2="125.5" stroke="#8A8A8A" stroke-width="0.95"/>
<line x1="524.36" x2="524.36" y1="136.9" y2="138.5" stroke="#8A8A8A" stroke-width="0.95"/>
<rect x="520.9" y="131.9" width="6.92" height="5" fill="#E8847A" stroke="#B0504A" stroke-width="0.7"/>
<line x1="520.9" x2="527.82" y1="134.5" y2="134.5" stroke="#8A2E28" stroke-width="1.4"/>
<rect x="530.95" y="81.61" width="2.2" height="26.1" rx="1" fill="#333"/>
<line x1="532.05" x2="532.05" y1="76.2" y2="81.61" stroke="#333" stroke-width="2.1" stroke-dasharray="1.8 0.55"/>
<ellipse cx="532.05" cy="67.7" rx="1.1" ry="0.95" fill="#333"/>
<ellipse cx="532.05" cy="70" rx="1.1" ry="0.95" fill="#333"/>
<ellipse cx="532.05" cy="72" rx="1.1" ry="0.95" fill="#333"/>
<ellipse cx="532.05" cy="73.3" rx="1.1" ry="0.95" fill="#333"/>
<line x1="532.05" x2="532.05" y1="122" y2="107.7" stroke="#8A8A8A" stroke-width="0.95"/>
<line x1="532.05" x2="532.05" y1="131.2" y2="139" stroke="#8A8A8A" stroke-width="0.95"/>
<rect x="528.59" y="122" width="6.92" height="9.2" fill="#7CAE00" stroke="#5A8000" stroke-width="0.7"/>
<line x1="528.59" x2="535.52" y1="126.9" y2="126.9" stroke="#3E5C00" stroke-width="1.4"/>
<rect x="538.65" y="49.5" width="2.2" height="42.6" rx="1" fill="#333"/>
<line x1="539.75" x2="539.75" y1="42.7" y2="49.5" stroke="#333" stroke-width="2.1" stroke-dasharray="1.8 0.55"/>
<ellipse cx="539.75" cy="26.9" rx="1.1" ry="0.95" fill="#333"/>
<line x1="539.75" x2="539.75" y1="112.7" y2="92.1" stroke="#8A8A8A" stroke-width="0.95"/>
<line x1="539.75" x2="539.75" y1="126.9" y2="139" stroke="#8A8A8A" stroke-width="0.95"/>
<rect x="536.28" y="112.7" width="6.92" height="14.2" fill="#00BFC4" stroke="#00909A" stroke-width="0.7"/>
<line x1="536.28" x2="543.21" y1="120.5" y2="120.5" stroke="#00606A" stroke-width="1.4"/>
<rect x="546.34" y="49.5" width="2.2" height="44" rx="1" fill="#333"/>
<line x1="547.44" x2="547.44" y1="42.7" y2="49.5" stroke="#333" stroke-width="2.1" stroke-dasharray="1.8 0.55"/>
<ellipse cx="547.44" cy="12.7" rx="1.1" ry="0.95" fill="#333"/>
<ellipse cx="547.44" cy="22.6" rx="1.1" ry="0.95" fill="#333"/>
<ellipse cx="547.44" cy="30.4" rx="1.1" ry="0.95" fill="#333"/>
<ellipse cx="547.44" cy="40.4" rx="1.1" ry="0.95" fill="#333"/>
<line x1="547.44" x2="547.44" y1="114.6" y2="93.5" stroke="#8A8A8A" stroke-width="0.95"/>
<line x1="547.44" x2="547.44" y1="129.1" y2="139" stroke="#8A8A8A" stroke-width="0.95"/>
<rect x="543.98" y="114.6" width="6.92" height="14.5" fill="#C77CFF" stroke="#9A60D0" stroke-width="0.7"/>
<line x1="543.98" x2="550.9" y1="123.4" y2="123.4" stroke="#6E3E9E" stroke-width="1.4"/>
<rect x="564.29" y="101.28" width="2.2" height="24.23" rx="1" fill="#333"/>
<line x1="565.39" x2="565.39" y1="96.2" y2="101.28" stroke="#333" stroke-width="2.1" stroke-dasharray="1.8 0.55"/>
<line x1="565.39" x2="565.39" y1="131.9" y2="125.5" stroke="#8A8A8A" stroke-width="0.95"/>
<line x1="565.39" x2="565.39" y1="137.3" y2="138.5" stroke="#8A8A8A" stroke-width="0.95"/>
<rect x="561.93" y="131.9" width="6.92" height="5.4" fill="#E8847A" stroke="#B0504A" stroke-width="0.7"/>
<line x1="561.93" x2="568.85" y1="134.7" y2="134.7" stroke="#8A2E28" stroke-width="1.4"/>
<rect x="571.98" y="74.78" width="2.2" height="32.22" rx="1" fill="#333"/>
<line x1="573.08" x2="573.08" y1="68.3" y2="74.78" stroke="#333" stroke-width="2.1" stroke-dasharray="1.8 0.55"/>
<ellipse cx="573.08" cy="62.3" rx="1.1" ry="0.95" fill="#333"/>
<line x1="573.08" x2="573.08" y1="121.7" y2="107" stroke="#8A8A8A" stroke-width="0.95"/>
<line x1="573.08" x2="573.08" y1="131.6" y2="139" stroke="#8A8A8A" stroke-width="0.95"/>
<rect x="569.62" y="121.7" width="6.92" height="9.9" fill="#7CAE00" stroke="#5A8000" stroke-width="0.7"/>
<line x1="569.62" x2="576.54" y1="127.4" y2="127.4" stroke="#3E5C00" stroke-width="1.4"/>
<rect x="579.67" y="63" width="2.2" height="36.2" rx="1" fill="#333"/>
<line x1="580.77" x2="580.77" y1="56.2" y2="63" stroke="#333" stroke-width="2.1" stroke-dasharray="1.8 0.55"/>
<ellipse cx="580.77" cy="43.5" rx="1.1" ry="0.95" fill="#333"/>
<ellipse cx="580.77" cy="50" rx="1.1" ry="0.95" fill="#333"/>
<ellipse cx="580.77" cy="52" rx="1.1" ry="0.95" fill="#333"/>
<ellipse cx="580.77" cy="54.9" rx="1.1" ry="0.95" fill="#333"/>
<line x1="580.77" x2="580.77" y1="117.4" y2="99.2" stroke="#8A8A8A" stroke-width="0.95"/>
<line x1="580.77" x2="580.77" y1="129.8" y2="139" stroke="#8A8A8A" stroke-width="0.95"/>
<rect x="577.31" y="117.4" width="6.92" height="12.4" fill="#00BFC4" stroke="#00909A" stroke-width="0.7"/>
<line x1="577.31" x2="584.24" y1="124.1" y2="124.1" stroke="#00606A" stroke-width="1.4"/>
<rect x="587.37" y="69.16" width="2.2" height="32.64" rx="1" fill="#333"/>
<line x1="588.47" x2="588.47" y1="62.6" y2="69.16" stroke="#333" stroke-width="2.1" stroke-dasharray="1.8 0.55"/>
<ellipse cx="588.47" cy="38.2" rx="1.1" ry="0.95" fill="#333"/>
<ellipse cx="588.47" cy="51.3" rx="1.1" ry="0.95" fill="#333"/>
<ellipse cx="588.47" cy="53.5" rx="1.1" ry="0.95" fill="#333"/>
<ellipse cx="588.47" cy="56" rx="1.1" ry="0.95" fill="#333"/>
<ellipse cx="588.47" cy="59.1" rx="1.1" ry="0.95" fill="#333"/>
<line x1="588.47" x2="588.47" y1="119.1" y2="101.8" stroke="#8A8A8A" stroke-width="0.95"/>
<line x1="588.47" x2="588.47" y1="132.2" y2="139" stroke="#8A8A8A" stroke-width="0.95"/>
<rect x="585.01" y="119.1" width="6.92" height="13.1" fill="#C77CFF" stroke="#9A60D0" stroke-width="0.7"/>
<line x1="585.01" x2="591.93" y1="126.5" y2="126.5" stroke="#6E3E9E" stroke-width="1.4"/>
<rect x="605.32" y="105.98" width="2.2" height="18.02" rx="1" fill="#333"/>
<line x1="606.42" x2="606.42" y1="102" y2="105.98" stroke="#333" stroke-width="2.1" stroke-dasharray="1.8 0.55"/>
<ellipse cx="606.42" cy="83.3" rx="1.1" ry="0.95" fill="#333"/>
<ellipse cx="606.42" cy="95" rx="1.1" ry="0.95" fill="#333"/>
<ellipse cx="606.42" cy="97.1" rx="1.1" ry="0.95" fill="#333"/>
<line x1="606.42" x2="606.42" y1="131.2" y2="124" stroke="#8A8A8A" stroke-width="0.95"/>
<line x1="606.42" x2="606.42" y1="136.9" y2="138.5" stroke="#8A8A8A" stroke-width="0.95"/>
<rect x="602.95" y="131.2" width="6.92" height="5.7" fill="#E8847A" stroke="#B0504A" stroke-width="0.7"/>
<line x1="602.95" x2="609.88" y1="134.15" y2="134.15" stroke="#8A2E28" stroke-width="1.4"/>
<rect x="613.01" y="73.92" width="2.2" height="31.28" rx="1" fill="#333"/>
<line x1="614.11" x2="614.11" y1="67.6" y2="73.92" stroke="#333" stroke-width="2.1" stroke-dasharray="1.8 0.55"/>
<ellipse cx="614.11" cy="47.5" rx="1.1" ry="0.95" fill="#333"/>
<ellipse cx="614.11" cy="53.2" rx="1.1" ry="0.95" fill="#333"/>
<ellipse cx="614.11" cy="57.4" rx="1.1" ry="0.95" fill="#333"/>
<line x1="614.11" x2="614.11" y1="120.3" y2="105.2" stroke="#8A8A8A" stroke-width="0.95"/>
<line x1="614.11" x2="614.11" y1="130.8" y2="139" stroke="#8A8A8A" stroke-width="0.95"/>
<rect x="610.65" y="120.3" width="6.92" height="10.5" fill="#7CAE00" stroke="#5A8000" stroke-width="0.7"/>
<line x1="610.65" x2="617.57" y1="126.2" y2="126.2" stroke="#3E5C00" stroke-width="1.4"/>
<rect x="620.7" y="74.86" width="2.2" height="28.65" rx="1" fill="#333"/>
<line x1="621.8" x2="621.8" y1="69" y2="74.86" stroke="#333" stroke-width="2.1" stroke-dasharray="1.8 0.55"/>
<ellipse cx="621.8" cy="39.2" rx="1.1" ry="0.95" fill="#333"/>
<ellipse cx="621.8" cy="44.9" rx="1.1" ry="0.95" fill="#333"/>
<ellipse cx="621.8" cy="48.9" rx="1.1" ry="0.95" fill="#333"/>
<ellipse cx="621.8" cy="58.4" rx="1.1" ry="0.95" fill="#333"/>
<ellipse cx="621.8" cy="62.3" rx="1.1" ry="0.95" fill="#333"/>
<line x1="621.8" x2="621.8" y1="119.8" y2="103.5" stroke="#8A8A8A" stroke-width="0.95"/>
<line x1="621.8" x2="621.8" y1="130.5" y2="139" stroke="#8A8A8A" stroke-width="0.95"/>
<rect x="618.34" y="119.8" width="6.92" height="10.7" fill="#00BFC4" stroke="#00909A" stroke-width="0.7"/>
<line x1="618.34" x2="625.26" y1="125.5" y2="125.5" stroke="#00606A" stroke-width="1.4"/>
<rect x="628.39" y="77.1" width="2.2" height="28.9" rx="1" fill="#333"/>
<line x1="629.49" x2="629.49" y1="71.2" y2="77.1" stroke="#333" stroke-width="2.1" stroke-dasharray="1.8 0.55"/>
<ellipse cx="629.49" cy="61.7" rx="1.1" ry="0.95" fill="#333"/>
<ellipse cx="629.49" cy="64" rx="1.1" ry="0.95" fill="#333"/>
<ellipse cx="629.49" cy="66" rx="1.1" ry="0.95" fill="#333"/>
<ellipse cx="629.49" cy="67.7" rx="1.1" ry="0.95" fill="#333"/>
<line x1="629.49" x2="629.49" y1="121.3" y2="106" stroke="#8A8A8A" stroke-width="0.95"/>
<line x1="629.49" x2="629.49" y1="132.2" y2="139" stroke="#8A8A8A" stroke-width="0.95"/>
<rect x="626.03" y="121.3" width="6.92" height="10.9" fill="#C77CFF" stroke="#9A60D0" stroke-width="0.7"/>
<line x1="626.03" x2="632.96" y1="127.4" y2="127.4" stroke="#6E3E9E" stroke-width="1.4"/>
<rect x="646.34" y="108.3" width="2.2" height="18.2" rx="1" fill="#333"/>
<line x1="647.44" x2="647.44" y1="132.9" y2="126.5" stroke="#8A8A8A" stroke-width="0.95"/>
<line x1="647.44" x2="647.44" y1="136.9" y2="138.5" stroke="#8A8A8A" stroke-width="0.95"/>
<rect x="643.98" y="132.9" width="6.92" height="4" fill="#E8847A" stroke="#B0504A" stroke-width="0.7"/>
<line x1="643.98" x2="650.91" y1="135" y2="135" stroke="#8A2E28" stroke-width="1.4"/>
<rect x="654.04" y="88.62" width="2.2" height="22.78" rx="1" fill="#333"/>
<line x1="655.14" x2="655.14" y1="83.8" y2="88.62" stroke="#333" stroke-width="2.1" stroke-dasharray="1.8 0.55"/>
<line x1="655.14" x2="655.14" y1="123.4" y2="111.4" stroke="#8A8A8A" stroke-width="0.95"/>
<line x1="655.14" x2="655.14" y1="132.1" y2="139.5" stroke="#8A8A8A" stroke-width="0.95"/>
<rect x="651.68" y="123.4" width="6.92" height="8.7" fill="#7CAE00" stroke="#5A8000" stroke-width="0.7"/>
<line x1="651.68" x2="658.6" y1="128.5" y2="128.5" stroke="#3E5C00" stroke-width="1.4"/>
<rect x="661.73" y="89" width="2.2" height="21.5" rx="1" fill="#333"/>
<line x1="662.83" x2="662.83" y1="84.4" y2="89" stroke="#333" stroke-width="2.1" stroke-dasharray="1.8 0.55"/>
<line x1="662.83" x2="662.83" y1="123.4" y2="110.5" stroke="#8A8A8A" stroke-width="0.95"/>
<line x1="662.83" x2="662.83" y1="131.5" y2="139.5" stroke="#8A8A8A" stroke-width="0.95"/>
<rect x="659.37" y="123.4" width="6.92" height="8.1" fill="#00BFC4" stroke="#00909A" stroke-width="0.7"/>
<line x1="659.37" x2="666.29" y1="128.5" y2="128.5" stroke="#00606A" stroke-width="1.4"/>
<rect x="669.42" y="94.2" width="2.2" height="18.8" rx="1" fill="#333"/>
<ellipse cx="670.52" cy="91.2" rx="1.1" ry="0.95" fill="#333"/>
<line x1="670.52" x2="670.52" y1="124.9" y2="113" stroke="#8A8A8A" stroke-width="0.95"/>
<line x1="670.52" x2="670.52" y1="133.5" y2="139.5" stroke="#8A8A8A" stroke-width="0.95"/>
<rect x="667.06" y="124.9" width="6.92" height="8.6" fill="#C77CFF" stroke="#9A60D0" stroke-width="0.7"/>
<line x1="667.06" x2="673.98" y1="129.5" y2="129.5" stroke="#6E3E9E" stroke-width="1.4"/>
<line x1="388.2" x2="683.6" y1="100.5" y2="100.5" stroke="#4A4A9E" stroke-width="1.0" stroke-dasharray="3.1 3.156"/>
<line x1="388.2" x2="683.6" y1="109.5" y2="109.5" stroke="#E0C474" stroke-width="1.0" stroke-dasharray="3.1 3.156"/>
<line x1="388.2" x2="683.6" y1="140.5" y2="140.5" stroke="#4A4A9E" stroke-width="1.0" stroke-dasharray="3.1 3.156"/>
<line x1="388.2" x2="683.6" y1="2.1" y2="2.1" stroke="#9A9A9A" stroke-width="0.9"/>
<line x1="683.6" x2="683.6" y1="2.1" y2="147.3" stroke="#727272" stroke-width="1.05"/>
<line x1="388.5" x2="388.5" y1="2.1" y2="147.3" stroke="#707070" stroke-width="1.1"/>
<line x1="388.2" x2="683.6" y1="147.5" y2="147.5" stroke="#6E6E6E" stroke-width="1.1"/>
<line x1="385.8" x2="388.2" y1="141.1" y2="141.1" stroke="#444" stroke-width="0.9"/>
<text transform="translate(383.4,144.5) scale(1,1.12)" font-size="7.6" fill="#4D4D4D" stroke="#4D4D4D" stroke-width="0.18" text-anchor="end">0</text>
<line x1="385.8" x2="388.2" y1="90.3" y2="90.3" stroke="#444" stroke-width="0.9"/>
<text transform="translate(383.4,93.7) scale(1,1.12)" font-size="7.6" fill="#4D4D4D" stroke="#4D4D4D" stroke-width="0.18" text-anchor="end">50</text>
<line x1="385.8" x2="388.2" y1="39.5" y2="39.5" stroke="#444" stroke-width="0.9"/>
<text transform="translate(383.4,42.9) scale(1,1.12)" font-size="7.6" fill="#4D4D4D" stroke="#4D4D4D" stroke-width="0.18" text-anchor="end">100</text>
<line x1="412.82" x2="412.82" y1="147.3" y2="149.7" stroke="#444" stroke-width="0.9"/>
<text transform="translate(412.82,158.2) scale(1,1.12)" font-size="7.35" fill="#4D4D4D" stroke="#4D4D4D" stroke-width="0.18" text-anchor="middle">15-&lt;20kg</text>
<line x1="453.84" x2="453.84" y1="147.3" y2="149.7" stroke="#444" stroke-width="0.9"/>
<text transform="translate(453.84,158.2) scale(1,1.12)" font-size="7.35" fill="#4D4D4D" stroke="#4D4D4D" stroke-width="0.18" text-anchor="middle">20-&lt;30kg</text>
<line x1="494.87" x2="494.87" y1="147.3" y2="149.7" stroke="#444" stroke-width="0.9"/>
<text transform="translate(494.87,158.2) scale(1,1.12)" font-size="7.35" fill="#4D4D4D" stroke="#4D4D4D" stroke-width="0.18" text-anchor="middle">30-&lt;40kg</text>
<line x1="535.9" x2="535.9" y1="147.3" y2="149.7" stroke="#444" stroke-width="0.9"/>
<text transform="translate(535.9,158.2) scale(1,1.12)" font-size="7.35" fill="#4D4D4D" stroke="#4D4D4D" stroke-width="0.18" text-anchor="middle">40-&lt;50kg</text>
<line x1="576.93" x2="576.93" y1="147.3" y2="149.7" stroke="#444" stroke-width="0.9"/>
<text transform="translate(576.93,158.2) scale(1,1.12)" font-size="7.35" fill="#4D4D4D" stroke="#4D4D4D" stroke-width="0.18" text-anchor="middle">50-&lt;60kg</text>
<line x1="617.96" x2="617.96" y1="147.3" y2="149.7" stroke="#444" stroke-width="0.9"/>
<text transform="translate(617.96,158.2) scale(1,1.12)" font-size="7.35" fill="#4D4D4D" stroke="#4D4D4D" stroke-width="0.18" text-anchor="middle">60-&lt;80kg</text>
<line x1="658.98" x2="658.98" y1="147.3" y2="149.7" stroke="#444" stroke-width="0.9"/>
<text transform="translate(658.98,158.2) scale(1,1.12)" font-size="7.35" fill="#4D4D4D" stroke="#4D4D4D" stroke-width="0.18" text-anchor="middle">&gt;=80kg</text>
<text x="535.9" y="167.8" font-size="8.3" fill="#1A1A1A" stroke="#1A1A1A" stroke-width="0.15" text-anchor="middle">Body Weight Groups</text>
<text transform="translate(367.3,74.7) rotate(-90)" x="0" y="0" font-size="8.4" fill="#1A1A1A" stroke="#1A1A1A" stroke-width="0.15" text-anchor="middle">Trough Conc. at Steady-State (mcg/mL)</text>
<text transform="translate(346.8,14.7) scale(0.88,1)" font-size="14" fill="#111" stroke="#111" stroke-width="0.25">B</text>
<line x1="425.9" x2="425.9" y1="184.2" y2="190.3" stroke="#AAA" stroke-width="0.6"/>
<rect x="422.1" y="185.2" width="7.6" height="4.1" fill="#D7746C" stroke="#B0504A" stroke-width="0.4"/>
<text transform="translate(435.2,190.6) scale(1,1.1)" font-size="7.5" fill="#1A1A1A" stroke="#1A1A1A" stroke-width="0.15">Studied M-SD (0.6mg/kg EOW)</text>
<line x1="548.4" x2="548.4" y1="184.2" y2="190.3" stroke="#AAA" stroke-width="0.6"/>
<rect x="544.6" y="185.2" width="7.6" height="4.1" fill="#72A000" stroke="#5A8000" stroke-width="0.4"/>
<text transform="translate(557.6,190.6) scale(1,1.1)" font-size="7.5" fill="#1A1A1A" stroke="#1A1A1A" stroke-width="0.15">Studied M-HD (0.6mg/kg EW)</text>
<line x1="425.9" x2="425.9" y1="196.5" y2="202.6" stroke="#AAA" stroke-width="0.6"/>
<rect x="422.1" y="197.5" width="7.6" height="4.1" fill="#00B1B7" stroke="#00909A" stroke-width="0.4"/>
<text transform="translate(435.2,202.9) scale(1,1.1)" font-size="7.5" fill="#1A1A1A" stroke="#1A1A1A" stroke-width="0.15">Applicant proposed EW</text>
<line x1="548.4" x2="548.4" y1="196.5" y2="202.6" stroke="#AAA" stroke-width="0.6"/>
<rect x="544.6" y="197.5" width="7.6" height="4.1" fill="#B974F1" stroke="#9A60D0" stroke-width="0.4"/>
<text transform="translate(557.6,202.9) scale(1,1.1)" font-size="7.5" fill="#1A1A1A" stroke="#1A1A1A" stroke-width="0.15">Applicant proposed EOW</text>
<rect x="42.4" y="220.4" width="291.4" height="145.1" fill="#fff"/>
<line x1="42.4" x2="333.8" y1="344.93" y2="344.93" stroke="#F2F2F2" stroke-width="0.6"/>
<line x1="42.4" x2="333.8" y1="315.38" y2="315.38" stroke="#F2F2F2" stroke-width="0.6"/>
<line x1="42.4" x2="333.8" y1="285.82" y2="285.82" stroke="#F2F2F2" stroke-width="0.6"/>
<line x1="42.4" x2="333.8" y1="256.27" y2="256.27" stroke="#F2F2F2" stroke-width="0.6"/>
<line x1="42.4" x2="333.8" y1="226.72" y2="226.72" stroke="#F2F2F2" stroke-width="0.6"/>
<line x1="42.4" x2="333.8" y1="359.7" y2="359.7" stroke="#EBEBEB" stroke-width="0.9"/>
<line x1="42.4" x2="333.8" y1="330.15" y2="330.15" stroke="#EBEBEB" stroke-width="0.9"/>
<line x1="42.4" x2="333.8" y1="300.6" y2="300.6" stroke="#EBEBEB" stroke-width="0.9"/>
<line x1="42.4" x2="333.8" y1="271.05" y2="271.05" stroke="#EBEBEB" stroke-width="0.9"/>
<line x1="42.4" x2="333.8" y1="241.5" y2="241.5" stroke="#EBEBEB" stroke-width="0.9"/>
<line x1="66.68" x2="66.68" y1="220.4" y2="365.5" stroke="#EBEBEB" stroke-width="0.9"/>
<line x1="107.16" x2="107.16" y1="220.4" y2="365.5" stroke="#EBEBEB" stroke-width="0.9"/>
<line x1="147.63" x2="147.63" y1="220.4" y2="365.5" stroke="#EBEBEB" stroke-width="0.9"/>
<line x1="188.1" x2="188.1" y1="220.4" y2="365.5" stroke="#EBEBEB" stroke-width="0.9"/>
<line x1="228.57" x2="228.57" y1="220.4" y2="365.5" stroke="#EBEBEB" stroke-width="0.9"/>
<line x1="269.04" x2="269.04" y1="220.4" y2="365.5" stroke="#EBEBEB" stroke-width="0.9"/>
<line x1="309.52" x2="309.52" y1="220.4" y2="365.5" stroke="#EBEBEB" stroke-width="0.9"/>
<rect x="55.47" y="340.5" width="2.2" height="7.2" rx="1" fill="#333"/>
<ellipse cx="56.57" cy="337.5" rx="1.1" ry="0.95" fill="#333"/>
<line x1="56.57" x2="56.57" y1="352" y2="347.7" stroke="#8A8A8A" stroke-width="0.95"/>
<line x1="56.57" x2="56.57" y1="355.5" y2="356.4" stroke="#8A8A8A" stroke-width="0.95"/>
<rect x="52.01" y="352" width="9.11" height="3.5" fill="#E8847A" stroke="#B0504A" stroke-width="0.7"/>
<line x1="52.01" x2="61.12" y1="353.85" y2="353.85" stroke="#8A2E28" stroke-width="1.4"/>
<rect x="65.58" y="318.8" width="2.2" height="12.9" rx="1" fill="#333"/>
<ellipse cx="66.68" cy="316.3" rx="1.1" ry="0.95" fill="#333"/>
<line x1="66.68" x2="66.68" y1="343" y2="331.7" stroke="#8A8A8A" stroke-width="0.95"/>
<line x1="66.68" x2="66.68" y1="351.3" y2="357.7" stroke="#8A8A8A" stroke-width="0.95"/>
<rect x="62.13" y="343" width="9.11" height="8.3" fill="#7CAE00" stroke="#5A8000" stroke-width="0.7"/>
<line x1="62.13" x2="71.24" y1="347.6" y2="347.6" stroke="#3E5C00" stroke-width="1.4"/>
<rect x="75.7" y="302.42" width="2.2" height="30.69" rx="1" fill="#333"/>
<line x1="76.8" x2="76.8" y1="296.2" y2="302.42" stroke="#333" stroke-width="2.1" stroke-dasharray="1.8 0.55"/>
<ellipse cx="76.8" cy="277" rx="1.1" ry="0.95" fill="#333"/>
<ellipse cx="76.8" cy="279" rx="1.1" ry="0.95" fill="#333"/>
<ellipse cx="76.8" cy="290.2" rx="1.1" ry="0.95" fill="#333"/>
<line x1="76.8" x2="76.8" y1="344" y2="333.1" stroke="#8A8A8A" stroke-width="0.95"/>
<line x1="76.8" x2="76.8" y1="351.1" y2="357.5" stroke="#8A8A8A" stroke-width="0.95"/>
<rect x="72.25" y="344" width="9.11" height="7.1" fill="#D07DB4" stroke="#A05A8A" stroke-width="0.7"/>
<line x1="72.25" x2="81.35" y1="347.8" y2="347.8" stroke="#7A3A68" stroke-width="1.4"/>
<rect x="94.67" y="332.5" width="2.2" height="13.7" rx="1" fill="#333"/>
<line x1="95.77" x2="95.77" y1="352" y2="346.2" stroke="#8A8A8A" stroke-width="0.95"/>
<line x1="95.77" x2="95.77" y1="355.5" y2="356.2" stroke="#8A8A8A" stroke-width="0.95"/>
<rect x="92.36" y="352" width="6.83" height="3.5" fill="#E8847A" stroke="#B0504A" stroke-width="0.7"/>
<line x1="92.36" x2="99.19" y1="353.85" y2="353.85" stroke="#8A2E28" stroke-width="1.4"/>
<rect x="102.26" y="317.2" width="2.2" height="17" rx="1" fill="#333"/>
<ellipse cx="103.36" cy="311.7" rx="1.1" ry="0.95" fill="#333"/>
<ellipse cx="103.36" cy="309.6" rx="1.1" ry="0.95" fill="#333"/>
<ellipse cx="103.36" cy="307.5" rx="1.1" ry="0.95" fill="#333"/>
<ellipse cx="103.36" cy="305.8" rx="1.1" ry="0.95" fill="#333"/>
<ellipse cx="103.36" cy="302.2" rx="1.1" ry="0.95" fill="#333"/>
<line x1="103.36" x2="103.36" y1="344.4" y2="334.2" stroke="#8A8A8A" stroke-width="0.95"/>
<line x1="103.36" x2="103.36" y1="351.3" y2="357.2" stroke="#8A8A8A" stroke-width="0.95"/>
<rect x="99.95" y="344.4" width="6.83" height="6.9" fill="#7CAE00" stroke="#5A8000" stroke-width="0.7"/>
<line x1="99.95" x2="106.78" y1="348" y2="348" stroke="#3E5C00" stroke-width="1.4"/>
<rect x="109.85" y="300.65" width="2.2" height="19.55" rx="1" fill="#333"/>
<line x1="110.95" x2="110.95" y1="296.4" y2="300.65" stroke="#333" stroke-width="2.1" stroke-dasharray="1.8 0.55"/>
<ellipse cx="110.95" cy="270.9" rx="1.1" ry="0.95" fill="#333"/>
<ellipse cx="110.95" cy="283" rx="1.1" ry="0.95" fill="#333"/>
<ellipse cx="110.95" cy="287.3" rx="1.1" ry="0.95" fill="#333"/>
<ellipse cx="110.95" cy="290.2" rx="1.1" ry="0.95" fill="#333"/>
<ellipse cx="110.95" cy="292.2" rx="1.1" ry="0.95" fill="#333"/>
<ellipse cx="110.95" cy="294.2" rx="1.1" ry="0.95" fill="#333"/>
<line x1="110.95" x2="110.95" y1="336.2" y2="320.2" stroke="#8A8A8A" stroke-width="0.95"/>
<line x1="110.95" x2="110.95" y1="346.6" y2="357.2" stroke="#8A8A8A" stroke-width="0.95"/>
<rect x="107.53" y="336.2" width="6.83" height="10.4" fill="#E8A50A" stroke="#B08000" stroke-width="0.7"/>
<line x1="107.53" x2="114.36" y1="341.9" y2="341.9" stroke="#7A5500" stroke-width="1.4"/>
<rect x="117.44" y="295.81" width="2.2" height="24.39" rx="1" fill="#333"/>
<line x1="118.54" x2="118.54" y1="290.7" y2="295.81" stroke="#333" stroke-width="2.1" stroke-dasharray="1.8 0.55"/>
<ellipse cx="118.54" cy="256.3" rx="1.1" ry="0.95" fill="#333"/>
<ellipse cx="118.54" cy="267.7" rx="1.1" ry="0.95" fill="#333"/>
<ellipse cx="118.54" cy="278.7" rx="1.1" ry="0.95" fill="#333"/>
<ellipse cx="118.54" cy="283" rx="1.1" ry="0.95" fill="#333"/>
<ellipse cx="118.54" cy="287.6" rx="1.1" ry="0.95" fill="#333"/>
<line x1="118.54" x2="118.54" y1="336.2" y2="320.2" stroke="#8A8A8A" stroke-width="0.95"/>
<line x1="118.54" x2="118.54" y1="346.6" y2="357.2" stroke="#8A8A8A" stroke-width="0.95"/>
<rect x="115.12" y="336.2" width="6.83" height="10.4" fill="#D07DB4" stroke="#A05A8A" stroke-width="0.7"/>
<line x1="115.12" x2="121.95" y1="341.9" y2="341.9" stroke="#7A3A68" stroke-width="1.4"/>
<rect x="135.14" y="327.11" width="2.2" height="18.79" rx="1" fill="#333"/>
<line x1="136.24" x2="136.24" y1="323" y2="327.11" stroke="#333" stroke-width="2.1" stroke-dasharray="1.8 0.55"/>
<ellipse cx="136.24" cy="313.4" rx="1.1" ry="0.95" fill="#333"/>
<line x1="136.24" x2="136.24" y1="351.5" y2="345.9" stroke="#8A8A8A" stroke-width="0.95"/>
<line x1="136.24" x2="136.24" y1="355.5" y2="356.2" stroke="#8A8A8A" stroke-width="0.95"/>
<rect x="132.83" y="351.5" width="6.83" height="4" fill="#E8847A" stroke="#B0504A" stroke-width="0.7"/>
<line x1="132.83" x2="139.66" y1="353.6" y2="353.6" stroke="#8A2E28" stroke-width="1.4"/>
<rect x="142.73" y="296.2" width="2.2" height="36.5" rx="1" fill="#333"/>
<line x1="143.83" x2="143.83" y1="289.4" y2="296.2" stroke="#333" stroke-width="2.1" stroke-dasharray="1.8 0.55"/>
<ellipse cx="143.83" cy="277.8" rx="1.1" ry="0.95" fill="#333"/>
<line x1="143.83" x2="143.83" y1="343.4" y2="332.7" stroke="#8A8A8A" stroke-width="0.95"/>
<line x1="143.83" x2="143.83" y1="351.3" y2="356.7" stroke="#8A8A8A" stroke-width="0.95"/>
<rect x="140.42" y="343.4" width="6.83" height="7.9" fill="#7CAE00" stroke="#5A8000" stroke-width="0.7"/>
<line x1="140.42" x2="147.25" y1="347.6" y2="347.6" stroke="#3E5C00" stroke-width="1.4"/>
<rect x="150.32" y="298.2" width="2.2" height="35.5" rx="1" fill="#333"/>
<line x1="151.42" x2="151.42" y1="291.4" y2="298.2" stroke="#333" stroke-width="2.1" stroke-dasharray="1.8 0.55"/>
<ellipse cx="151.42" cy="279.5" rx="1.1" ry="0.95" fill="#333"/>
<line x1="151.42" x2="151.42" y1="344.4" y2="333.7" stroke="#8A8A8A" stroke-width="0.95"/>
<line x1="151.42" x2="151.42" y1="351.5" y2="356.7" stroke="#8A8A8A" stroke-width="0.95"/>
<rect x="148.01" y="344.4" width="6.83" height="7.1" fill="#E8A50A" stroke="#B08000" stroke-width="0.7"/>
<line x1="148.01" x2="154.84" y1="348.4" y2="348.4" stroke="#7A5500" stroke-width="1.4"/>
<rect x="157.91" y="310.32" width="2.2" height="23.38" rx="1" fill="#333"/>
<line x1="159.01" x2="159.01" y1="305.4" y2="310.32" stroke="#333" stroke-width="2.1" stroke-dasharray="1.8 0.55"/>
<ellipse cx="159.01" cy="282.3" rx="1.1" ry="0.95" fill="#333"/>
<ellipse cx="159.01" cy="289.7" rx="1.1" ry="0.95" fill="#333"/>
<ellipse cx="159.01" cy="292.2" rx="1.1" ry="0.95" fill="#333"/>
<ellipse cx="159.01" cy="294.7" rx="1.1" ry="0.95" fill="#333"/>
<ellipse cx="159.01" cy="296.2" rx="1.1" ry="0.95" fill="#333"/>
<line x1="159.01" x2="159.01" y1="344.4" y2="333.7" stroke="#8A8A8A" stroke-width="0.95"/>
<line x1="159.01" x2="159.01" y1="351.5" y2="356.7" stroke="#8A8A8A" stroke-width="0.95"/>
<rect x="155.6" y="344.4" width="6.83" height="7.1" fill="#D07DB4" stroke="#A05A8A" stroke-width="0.7"/>
<line x1="155.6" x2="162.43" y1="348.4" y2="348.4" stroke="#7A3A68" stroke-width="1.4"/>
<rect x="175.62" y="328.2" width="2.2" height="18" rx="1" fill="#333"/>
<ellipse cx="176.72" cy="324.8" rx="1.1" ry="0.95" fill="#333"/>
<line x1="176.72" x2="176.72" y1="351.5" y2="346.2" stroke="#8A8A8A" stroke-width="0.95"/>
<line x1="176.72" x2="176.72" y1="355.5" y2="356.2" stroke="#8A8A8A" stroke-width="0.95"/>
<rect x="173.3" y="351.5" width="6.83" height="4" fill="#E8847A" stroke="#B0504A" stroke-width="0.7"/>
<line x1="173.3" x2="180.13" y1="353.6" y2="353.6" stroke="#8A2E28" stroke-width="1.4"/>
<rect x="183.21" y="297.7" width="2.2" height="34.6" rx="1" fill="#333"/>
<line x1="184.31" x2="184.31" y1="290.9" y2="297.7" stroke="#333" stroke-width="2.1" stroke-dasharray="1.8 0.55"/>
<line x1="184.31" x2="184.31" y1="343.4" y2="332.3" stroke="#8A8A8A" stroke-width="0.95"/>
<line x1="184.31" x2="184.31" y1="351.3" y2="356.7" stroke="#8A8A8A" stroke-width="0.95"/>
<rect x="180.89" y="343.4" width="6.83" height="7.9" fill="#7CAE00" stroke="#5A8000" stroke-width="0.7"/>
<line x1="180.89" x2="187.72" y1="347.6" y2="347.6" stroke="#3E5C00" stroke-width="1.4"/>
<rect x="190.79" y="279.8" width="2.2" height="38.3" rx="1" fill="#333"/>
<line x1="191.89" x2="191.89" y1="273" y2="279.8" stroke="#333" stroke-width="2.1" stroke-dasharray="1.8 0.55"/>
<ellipse cx="191.89" cy="255.7" rx="1.1" ry="0.95" fill="#333"/>
<ellipse cx="191.89" cy="265.2" rx="1.1" ry="0.95" fill="#333"/>
<ellipse cx="191.89" cy="267.2" rx="1.1" ry="0.95" fill="#333"/>
<ellipse cx="191.89" cy="268.8" rx="1.1" ry="0.95" fill="#333"/>
<line x1="191.89" x2="191.89" y1="335.6" y2="318.1" stroke="#8A8A8A" stroke-width="0.95"/>
<line x1="191.89" x2="191.89" y1="346.6" y2="357.2" stroke="#8A8A8A" stroke-width="0.95"/>
<rect x="188.48" y="335.6" width="6.83" height="11" fill="#E8A50A" stroke="#B08000" stroke-width="0.7"/>
<line x1="188.48" x2="195.31" y1="341.3" y2="341.3" stroke="#7A5500" stroke-width="1.4"/>
<rect x="198.38" y="275.5" width="2.2" height="42.6" rx="1" fill="#333"/>
<line x1="199.48" x2="199.48" y1="268.7" y2="275.5" stroke="#333" stroke-width="2.1" stroke-dasharray="1.8 0.55"/>
<ellipse cx="199.48" cy="227" rx="1.1" ry="0.95" fill="#333"/>
<ellipse cx="199.48" cy="239.2" rx="1.1" ry="0.95" fill="#333"/>
<ellipse cx="199.48" cy="251.7" rx="1.1" ry="0.95" fill="#333"/>
<ellipse cx="199.48" cy="261" rx="1.1" ry="0.95" fill="#333"/>
<ellipse cx="199.48" cy="264.5" rx="1.1" ry="0.95" fill="#333"/>
<ellipse cx="199.48" cy="266.7" rx="1.1" ry="0.95" fill="#333"/>
<line x1="199.48" x2="199.48" y1="335.6" y2="318.1" stroke="#8A8A8A" stroke-width="0.95"/>
<line x1="199.48" x2="199.48" y1="346.6" y2="357.2" stroke="#8A8A8A" stroke-width="0.95"/>
<rect x="196.07" y="335.6" width="6.83" height="11" fill="#D07DB4" stroke="#A05A8A" stroke-width="0.7"/>
<line x1="196.07" x2="202.9" y1="341.3" y2="341.3" stroke="#7A3A68" stroke-width="1.4"/>
<rect x="216.09" y="325.97" width="2.2" height="20.23" rx="1" fill="#333"/>
<line x1="217.19" x2="217.19" y1="321.6" y2="325.97" stroke="#333" stroke-width="2.1" stroke-dasharray="1.8 0.55"/>
<line x1="217.19" x2="217.19" y1="351.3" y2="346.2" stroke="#8A8A8A" stroke-width="0.95"/>
<line x1="217.19" x2="217.19" y1="355.1" y2="356.2" stroke="#8A8A8A" stroke-width="0.95"/>
<rect x="213.77" y="351.3" width="6.83" height="3.8" fill="#E8847A" stroke="#B0504A" stroke-width="0.7"/>
<line x1="213.77" x2="220.6" y1="353.3" y2="353.3" stroke="#8A2E28" stroke-width="1.4"/>
<rect x="223.68" y="296.8" width="2.2" height="34.9" rx="1" fill="#333"/>
<line x1="224.78" x2="224.78" y1="290" y2="296.8" stroke="#333" stroke-width="2.1" stroke-dasharray="1.8 0.55"/>
<ellipse cx="224.78" cy="272.3" rx="1.1" ry="0.95" fill="#333"/>
<ellipse cx="224.78" cy="282.7" rx="1.1" ry="0.95" fill="#333"/>
<line x1="224.78" x2="224.78" y1="342.3" y2="331.7" stroke="#8A8A8A" stroke-width="0.95"/>
<line x1="224.78" x2="224.78" y1="350.8" y2="357.2" stroke="#8A8A8A" stroke-width="0.95"/>
<rect x="221.36" y="342.3" width="6.83" height="8.5" fill="#7CAE00" stroke="#5A8000" stroke-width="0.7"/>
<line x1="221.36" x2="228.19" y1="346.6" y2="346.6" stroke="#3E5C00" stroke-width="1.4"/>
<rect x="231.27" y="285.5" width="2.2" height="39.2" rx="1" fill="#333"/>
<line x1="232.37" x2="232.37" y1="278.7" y2="285.5" stroke="#333" stroke-width="2.1" stroke-dasharray="1.8 0.55"/>
<ellipse cx="232.37" cy="259.6" rx="1.1" ry="0.95" fill="#333"/>
<ellipse cx="232.37" cy="262.8" rx="1.1" ry="0.95" fill="#333"/>
<ellipse cx="232.37" cy="272.3" rx="1.1" ry="0.95" fill="#333"/>
<ellipse cx="232.37" cy="277.3" rx="1.1" ry="0.95" fill="#333"/>
<line x1="232.37" x2="232.37" y1="339" y2="324.7" stroke="#8A8A8A" stroke-width="0.95"/>
<line x1="232.37" x2="232.37" y1="349" y2="357.7" stroke="#8A8A8A" stroke-width="0.95"/>
<rect x="228.95" y="339" width="6.83" height="10" fill="#E8A50A" stroke="#B08000" stroke-width="0.7"/>
<line x1="228.95" x2="235.78" y1="344.4" y2="344.4" stroke="#7A5500" stroke-width="1.4"/>
<rect x="238.86" y="293.17" width="2.2" height="31.53" rx="1" fill="#333"/>
<line x1="239.96" x2="239.96" y1="286.8" y2="293.17" stroke="#333" stroke-width="2.1" stroke-dasharray="1.8 0.55"/>
<ellipse cx="239.96" cy="238" rx="1.1" ry="0.95" fill="#333"/>
<ellipse cx="239.96" cy="256.4" rx="1.1" ry="0.95" fill="#333"/>
<ellipse cx="239.96" cy="267.7" rx="1.1" ry="0.95" fill="#333"/>
<ellipse cx="239.96" cy="272.3" rx="1.1" ry="0.95" fill="#333"/>
<ellipse cx="239.96" cy="274.2" rx="1.1" ry="0.95" fill="#333"/>
<ellipse cx="239.96" cy="276.6" rx="1.1" ry="0.95" fill="#333"/>
<ellipse cx="239.96" cy="280.5" rx="1.1" ry="0.95" fill="#333"/>
<ellipse cx="239.96" cy="282.2" rx="1.1" ry="0.95" fill="#333"/>
<ellipse cx="239.96" cy="284.4" rx="1.1" ry="0.95" fill="#333"/>
<line x1="239.96" x2="239.96" y1="339" y2="324.7" stroke="#8A8A8A" stroke-width="0.95"/>
<line x1="239.96" x2="239.96" y1="349" y2="357.7" stroke="#8A8A8A" stroke-width="0.95"/>
<rect x="236.54" y="339" width="6.83" height="10" fill="#D07DB4" stroke="#A05A8A" stroke-width="0.7"/>
<line x1="236.54" x2="243.37" y1="344.4" y2="344.4" stroke="#7A3A68" stroke-width="1.4"/>
<rect x="256.56" y="327.7" width="2.2" height="17.5" rx="1" fill="#333"/>
<ellipse cx="257.66" cy="310" rx="1.1" ry="0.95" fill="#333"/>
<ellipse cx="257.66" cy="318.6" rx="1.1" ry="0.95" fill="#333"/>
<ellipse cx="257.66" cy="321" rx="1.1" ry="0.95" fill="#333"/>
<line x1="257.66" x2="257.66" y1="350.8" y2="345.2" stroke="#8A8A8A" stroke-width="0.95"/>
<line x1="257.66" x2="257.66" y1="355.1" y2="356.2" stroke="#8A8A8A" stroke-width="0.95"/>
<rect x="254.25" y="350.8" width="6.83" height="4.3" fill="#E8847A" stroke="#B0504A" stroke-width="0.7"/>
<line x1="254.25" x2="261.08" y1="353.05" y2="353.05" stroke="#8A2E28" stroke-width="1.4"/>
<rect x="264.15" y="297.85" width="2.2" height="32.04" rx="1" fill="#333"/>
<line x1="265.25" x2="265.25" y1="291.4" y2="297.85" stroke="#333" stroke-width="2.1" stroke-dasharray="1.8 0.55"/>
<ellipse cx="265.25" cy="247.9" rx="1.1" ry="0.95" fill="#333"/>
<ellipse cx="265.25" cy="261.7" rx="1.1" ry="0.95" fill="#333"/>
<ellipse cx="265.25" cy="278.7" rx="1.1" ry="0.95" fill="#333"/>
<ellipse cx="265.25" cy="283" rx="1.1" ry="0.95" fill="#333"/>
<line x1="265.25" x2="265.25" y1="341.6" y2="329.9" stroke="#8A8A8A" stroke-width="0.95"/>
<line x1="265.25" x2="265.25" y1="350.1" y2="357.2" stroke="#8A8A8A" stroke-width="0.95"/>
<rect x="261.84" y="341.6" width="6.83" height="8.5" fill="#7CAE00" stroke="#5A8000" stroke-width="0.7"/>
<line x1="261.84" x2="268.67" y1="345.9" y2="345.9" stroke="#3E5C00" stroke-width="1.4"/>
<rect x="271.74" y="296.05" width="2.2" height="33.15" rx="1" fill="#333"/>
<line x1="272.84" x2="272.84" y1="289.4" y2="296.05" stroke="#333" stroke-width="2.1" stroke-dasharray="1.8 0.55"/>
<ellipse cx="272.84" cy="235.4" rx="1.1" ry="0.95" fill="#333"/>
<ellipse cx="272.84" cy="250.6" rx="1.1" ry="0.95" fill="#333"/>
<ellipse cx="272.84" cy="269.9" rx="1.1" ry="0.95" fill="#333"/>
<ellipse cx="272.84" cy="273.8" rx="1.1" ry="0.95" fill="#333"/>
<ellipse cx="272.84" cy="282.3" rx="1.1" ry="0.95" fill="#333"/>
<ellipse cx="272.84" cy="284.2" rx="1.1" ry="0.95" fill="#333"/>
<ellipse cx="272.84" cy="285.9" rx="1.1" ry="0.95" fill="#333"/>
<line x1="272.84" x2="272.84" y1="341.3" y2="329.2" stroke="#8A8A8A" stroke-width="0.95"/>
<line x1="272.84" x2="272.84" y1="350.1" y2="357.2" stroke="#8A8A8A" stroke-width="0.95"/>
<rect x="269.42" y="341.3" width="6.83" height="8.8" fill="#E8A50A" stroke="#B08000" stroke-width="0.7"/>
<line x1="269.42" x2="276.25" y1="345.6" y2="345.6" stroke="#7A5500" stroke-width="1.4"/>
<rect x="279.33" y="291.9" width="2.2" height="37.3" rx="1" fill="#333"/>
<line x1="280.43" x2="280.43" y1="285.1" y2="291.9" stroke="#333" stroke-width="2.1" stroke-dasharray="1.8 0.55"/>
<ellipse cx="280.43" cy="280.5" rx="1.1" ry="0.95" fill="#333"/>
<ellipse cx="280.43" cy="282.7" rx="1.1" ry="0.95" fill="#333"/>
<line x1="280.43" x2="280.43" y1="341.3" y2="329.2" stroke="#8A8A8A" stroke-width="0.95"/>
<line x1="280.43" x2="280.43" y1="349.8" y2="357.2" stroke="#8A8A8A" stroke-width="0.95"/>
<rect x="277.01" y="341.3" width="6.83" height="8.5" fill="#D07DB4" stroke="#A05A8A" stroke-width="0.7"/>
<line x1="277.01" x2="283.84" y1="345.6" y2="345.6" stroke="#7A3A68" stroke-width="1.4"/>
<rect x="297.03" y="332.7" width="2.2" height="15.5" rx="1" fill="#333"/>
<line x1="298.13" x2="298.13" y1="352.3" y2="348.2" stroke="#8A8A8A" stroke-width="0.95"/>
<line x1="298.13" x2="298.13" y1="355.8" y2="356.5" stroke="#8A8A8A" stroke-width="0.95"/>
<rect x="294.72" y="352.3" width="6.83" height="3.5" fill="#E8847A" stroke="#B0504A" stroke-width="0.7"/>
<line x1="294.72" x2="301.55" y1="354.15" y2="354.15" stroke="#8A2E28" stroke-width="1.4"/>
<rect x="304.62" y="316.43" width="2.2" height="18.27" rx="1" fill="#333"/>
<line x1="305.72" x2="305.72" y1="312.4" y2="316.43" stroke="#333" stroke-width="2.1" stroke-dasharray="1.8 0.55"/>
<ellipse cx="305.72" cy="300.7" rx="1.1" ry="0.95" fill="#333"/>
<ellipse cx="305.72" cy="303.2" rx="1.1" ry="0.95" fill="#333"/>
<ellipse cx="305.72" cy="309.6" rx="1.1" ry="0.95" fill="#333"/>
<line x1="305.72" x2="305.72" y1="345.2" y2="334.7" stroke="#8A8A8A" stroke-width="0.95"/>
<line x1="305.72" x2="305.72" y1="351.8" y2="357.2" stroke="#8A8A8A" stroke-width="0.95"/>
<rect x="302.31" y="345.2" width="6.83" height="6.6" fill="#7CAE00" stroke="#5A8000" stroke-width="0.7"/>
<line x1="302.31" x2="309.14" y1="348.4" y2="348.4" stroke="#3E5C00" stroke-width="1.4"/>
<rect x="312.21" y="316.35" width="2.2" height="17.85" rx="1" fill="#333"/>
<line x1="313.31" x2="313.31" y1="312.4" y2="316.35" stroke="#333" stroke-width="2.1" stroke-dasharray="1.8 0.55"/>
<ellipse cx="313.31" cy="300.7" rx="1.1" ry="0.95" fill="#333"/>
<ellipse cx="313.31" cy="303.2" rx="1.1" ry="0.95" fill="#333"/>
<ellipse cx="313.31" cy="309.6" rx="1.1" ry="0.95" fill="#333"/>
<line x1="313.31" x2="313.31" y1="345.2" y2="334.2" stroke="#8A8A8A" stroke-width="0.95"/>
<line x1="313.31" x2="313.31" y1="351.8" y2="357.2" stroke="#8A8A8A" stroke-width="0.95"/>
<rect x="309.9" y="345.2" width="6.83" height="6.6" fill="#E8A50A" stroke="#B08000" stroke-width="0.7"/>
<line x1="309.9" x2="316.73" y1="348.4" y2="348.4" stroke="#7A5500" stroke-width="1.4"/>
<rect x="319.8" y="315.8" width="2.2" height="20.4" rx="1" fill="#333"/>
<line x1="320.9" x2="320.9" y1="311.4" y2="315.8" stroke="#333" stroke-width="2.1" stroke-dasharray="1.8 0.55"/>
<line x1="320.9" x2="320.9" y1="345.6" y2="336.2" stroke="#8A8A8A" stroke-width="0.95"/>
<line x1="320.9" x2="320.9" y1="351.8" y2="357.2" stroke="#8A8A8A" stroke-width="0.95"/>
<rect x="317.48" y="345.6" width="6.83" height="6.2" fill="#D07DB4" stroke="#A05A8A" stroke-width="0.7"/>
<line x1="317.48" x2="324.31" y1="349" y2="349" stroke="#7A3A68" stroke-width="1.4"/>
<line x1="42.4" x2="333.8" y1="309.5" y2="309.5" stroke="#C0504D" stroke-width="1.0" stroke-dasharray="3.1 3.156"/>
<line x1="42.4" x2="333.8" y1="333.5" y2="333.5" stroke="#4A4A9E" stroke-width="1.0" stroke-dasharray="3.1 3.156"/>
<line x1="42.4" x2="333.8" y1="357.57" y2="357.57" stroke="#8650A6" stroke-width="2.5" stroke-dasharray="3.05 3.206"/>
<line x1="42.4" x2="333.8" y1="220.4" y2="220.4" stroke="#9A9A9A" stroke-width="0.9"/>
<line x1="333.8" x2="333.8" y1="220.4" y2="365.5" stroke="#727272" stroke-width="1.05"/>
<line x1="42.7" x2="42.7" y1="220.4" y2="365.5" stroke="#707070" stroke-width="1.1"/>
<line x1="42.4" x2="333.8" y1="365.5" y2="365.5" stroke="#6E6E6E" stroke-width="1.1"/>
<line x1="40" x2="42.4" y1="359.7" y2="359.7" stroke="#444" stroke-width="0.9"/>
<text transform="translate(37.6,363.1) scale(1,1.12)" font-size="7.6" fill="#4D4D4D" stroke="#4D4D4D" stroke-width="0.18" text-anchor="end">0</text>
<line x1="40" x2="42.4" y1="330.15" y2="330.15" stroke="#444" stroke-width="0.9"/>
<text transform="translate(37.6,333.55) scale(1,1.12)" font-size="7.6" fill="#4D4D4D" stroke="#4D4D4D" stroke-width="0.18" text-anchor="end">500</text>
<line x1="40" x2="42.4" y1="300.6" y2="300.6" stroke="#444" stroke-width="0.9"/>
<text transform="translate(37.6,304) scale(1,1.12)" font-size="7.6" fill="#4D4D4D" stroke="#4D4D4D" stroke-width="0.18" text-anchor="end">1000</text>
<line x1="40" x2="42.4" y1="271.05" y2="271.05" stroke="#444" stroke-width="0.9"/>
<text transform="translate(37.6,274.45) scale(1,1.12)" font-size="7.6" fill="#4D4D4D" stroke="#4D4D4D" stroke-width="0.18" text-anchor="end">1500</text>
<line x1="40" x2="42.4" y1="241.5" y2="241.5" stroke="#444" stroke-width="0.9"/>
<text transform="translate(37.6,244.9) scale(1,1.12)" font-size="7.6" fill="#4D4D4D" stroke="#4D4D4D" stroke-width="0.18" text-anchor="end">2000</text>
<line x1="66.68" x2="66.68" y1="365.5" y2="367.9" stroke="#444" stroke-width="0.9"/>
<text transform="translate(66.68,376.4) scale(1,1.12)" font-size="7.35" fill="#4D4D4D" stroke="#4D4D4D" stroke-width="0.18" text-anchor="middle">15-&lt;20kg</text>
<line x1="107.16" x2="107.16" y1="365.5" y2="367.9" stroke="#444" stroke-width="0.9"/>
<text transform="translate(107.16,376.4) scale(1,1.12)" font-size="7.35" fill="#4D4D4D" stroke="#4D4D4D" stroke-width="0.18" text-anchor="middle">20-&lt;30kg</text>
<line x1="147.63" x2="147.63" y1="365.5" y2="367.9" stroke="#444" stroke-width="0.9"/>
<text transform="translate(147.63,376.4) scale(1,1.12)" font-size="7.35" fill="#4D4D4D" stroke="#4D4D4D" stroke-width="0.18" text-anchor="middle">30-&lt;40kg</text>
<line x1="188.1" x2="188.1" y1="365.5" y2="367.9" stroke="#444" stroke-width="0.9"/>
<text transform="translate(188.1,376.4) scale(1,1.12)" font-size="7.35" fill="#4D4D4D" stroke="#4D4D4D" stroke-width="0.18" text-anchor="middle">40-&lt;50kg</text>
<line x1="228.57" x2="228.57" y1="365.5" y2="367.9" stroke="#444" stroke-width="0.9"/>
<text transform="translate(228.57,376.4) scale(1,1.12)" font-size="7.35" fill="#4D4D4D" stroke="#4D4D4D" stroke-width="0.18" text-anchor="middle">50-&lt;60kg</text>
<line x1="269.04" x2="269.04" y1="365.5" y2="367.9" stroke="#444" stroke-width="0.9"/>
<text transform="translate(269.04,376.4) scale(1,1.12)" font-size="7.35" fill="#4D4D4D" stroke="#4D4D4D" stroke-width="0.18" text-anchor="middle">60-&lt;80kg</text>
<line x1="309.52" x2="309.52" y1="365.5" y2="367.9" stroke="#444" stroke-width="0.9"/>
<text transform="translate(309.52,376.4) scale(1,1.12)" font-size="7.35" fill="#4D4D4D" stroke="#4D4D4D" stroke-width="0.18" text-anchor="middle">&gt;=80kg</text>
<text x="188.1" y="386" font-size="8.3" fill="#1A1A1A" stroke="#1A1A1A" stroke-width="0.15" text-anchor="middle">Body Weight Groups</text>
<text transform="translate(17.9,292.95) rotate(-90)" x="0" y="0" font-size="8.4" fill="#1A1A1A" stroke="#1A1A1A" stroke-width="0.15" text-anchor="middle">AUC at Steady-State (mcg*h/mL)</text>
<text transform="translate(0.1,228.9) scale(0.88,1)" font-size="14" fill="#111" stroke="#111" stroke-width="0.25">C</text>
<line x1="78.3" x2="78.3" y1="402.6" y2="408.7" stroke="#AAA" stroke-width="0.6"/>
<rect x="74.5" y="403.6" width="7.6" height="4.1" fill="#D7746C" stroke="#B0504A" stroke-width="0.4"/>
<text transform="translate(86.8,409) scale(1,1.1)" font-size="7.5" fill="#1A1A1A" stroke="#1A1A1A" stroke-width="0.15">Studied M-SD (0.6mg/kg EOW)</text>
<line x1="200.1" x2="200.1" y1="402.6" y2="408.7" stroke="#AAA" stroke-width="0.6"/>
<rect x="196.3" y="403.6" width="7.6" height="4.1" fill="#72A000" stroke="#5A8000" stroke-width="0.4"/>
<text transform="translate(209.3,409) scale(1,1.1)" font-size="7.5" fill="#1A1A1A" stroke="#1A1A1A" stroke-width="0.15">Studied M-HD (0.6mg/kg EW)</text>
<line x1="78.3" x2="78.3" y1="414.9" y2="421" stroke="#AAA" stroke-width="0.6"/>
<rect x="74.5" y="415.9" width="7.6" height="4.1" fill="#D79A07" stroke="#B08000" stroke-width="0.4"/>
<text transform="translate(86.8,421.3) scale(1,1.1)" font-size="7.85" fill="#1A1A1A" stroke="#1A1A1A" stroke-width="0.15">FDA Evaluated EW</text>
<line x1="200.1" x2="200.1" y1="414.9" y2="421" stroke="#AAA" stroke-width="0.6"/>
<rect x="196.3" y="415.9" width="7.6" height="4.1" fill="#C272A7" stroke="#A05A8A" stroke-width="0.4"/>
<text transform="translate(209.3,421.3) scale(1,1.1)" font-size="8.1" fill="#1A1A1A" stroke="#1A1A1A" stroke-width="0.15">FDA Evaluated EOW</text>
<rect x="389.6" y="220.8" width="293.3" height="139.7" fill="#fff"/>
<line x1="389.6" x2="682.9" y1="329.5" y2="329.5" stroke="#F2F2F2" stroke-width="0.6"/>
<line x1="389.6" x2="682.9" y1="278.9" y2="278.9" stroke="#F2F2F2" stroke-width="0.6"/>
<line x1="389.6" x2="682.9" y1="228.3" y2="228.3" stroke="#F2F2F2" stroke-width="0.6"/>
<line x1="389.6" x2="682.9" y1="354.8" y2="354.8" stroke="#EBEBEB" stroke-width="0.9"/>
<line x1="389.6" x2="682.9" y1="304.2" y2="304.2" stroke="#EBEBEB" stroke-width="0.9"/>
<line x1="389.6" x2="682.9" y1="253.6" y2="253.6" stroke="#EBEBEB" stroke-width="0.9"/>
<line x1="414.04" x2="414.04" y1="220.8" y2="360.5" stroke="#EBEBEB" stroke-width="0.9"/>
<line x1="454.78" x2="454.78" y1="220.8" y2="360.5" stroke="#EBEBEB" stroke-width="0.9"/>
<line x1="495.51" x2="495.51" y1="220.8" y2="360.5" stroke="#EBEBEB" stroke-width="0.9"/>
<line x1="536.25" x2="536.25" y1="220.8" y2="360.5" stroke="#EBEBEB" stroke-width="0.9"/>
<line x1="576.99" x2="576.99" y1="220.8" y2="360.5" stroke="#EBEBEB" stroke-width="0.9"/>
<line x1="617.72" x2="617.72" y1="220.8" y2="360.5" stroke="#EBEBEB" stroke-width="0.9"/>
<line x1="658.46" x2="658.46" y1="220.8" y2="360.5" stroke="#EBEBEB" stroke-width="0.9"/>
<rect x="402.76" y="332.29" width="2.2" height="9.46" rx="1" fill="#333"/>
<ellipse cx="403.86" cy="328.7" rx="1.1" ry="0.95" fill="#333"/>
<line x1="403.86" x2="403.86" y1="346.03" y2="341.75" stroke="#8A8A8A" stroke-width="0.95"/>
<line x1="403.86" x2="403.86" y1="351.01" y2="352.41" stroke="#8A8A8A" stroke-width="0.95"/>
<rect x="399.27" y="346.03" width="9.17" height="4.98" fill="#E8847A" stroke="#B0504A" stroke-width="0.7"/>
<line x1="399.27" x2="408.44" y1="348.62" y2="348.62" stroke="#8A2E28" stroke-width="1.4"/>
<rect x="412.94" y="307.39" width="2.2" height="14.44" rx="1" fill="#333"/>
<ellipse cx="414.04" cy="303.2" rx="1.1" ry="0.95" fill="#333"/>
<line x1="414.04" x2="414.04" y1="336.07" y2="321.83" stroke="#8A8A8A" stroke-width="0.95"/>
<line x1="414.04" x2="414.04" y1="345.34" y2="352.71" stroke="#8A8A8A" stroke-width="0.95"/>
<rect x="409.46" y="336.07" width="9.17" height="9.26" fill="#7CAE00" stroke="#5A8000" stroke-width="0.7"/>
<line x1="409.46" x2="418.62" y1="341.15" y2="341.15" stroke="#3E5C00" stroke-width="1.4"/>
<rect x="423.13" y="303.4" width="2.2" height="19.29" rx="1" fill="#333"/>
<line x1="424.23" x2="424.23" y1="299.2" y2="303.4" stroke="#333" stroke-width="2.1" stroke-dasharray="1.8 0.55"/>
<ellipse cx="424.23" cy="289" rx="1.1" ry="0.95" fill="#333"/>
<ellipse cx="424.23" cy="299" rx="1.1" ry="0.95" fill="#333"/>
<line x1="424.23" x2="424.23" y1="340.1" y2="322.7" stroke="#8A8A8A" stroke-width="0.95"/>
<line x1="424.23" x2="424.23" y1="351.2" y2="354" stroke="#8A8A8A" stroke-width="0.95"/>
<rect x="419.64" y="340.1" width="9.17" height="11.1" fill="#D07DB4" stroke="#A05A8A" stroke-width="0.7"/>
<line x1="419.64" x2="428.81" y1="345.2" y2="345.2" stroke="#7A3A68" stroke-width="1.4"/>
<rect x="442.22" y="324.56" width="2.2" height="17.19" rx="1" fill="#333"/>
<line x1="443.32" x2="443.32" y1="320.73" y2="324.56" stroke="#333" stroke-width="2.1" stroke-dasharray="1.8 0.55"/>
<line x1="443.32" x2="443.32" y1="346.33" y2="341.75" stroke="#8A8A8A" stroke-width="0.95"/>
<line x1="443.32" x2="443.32" y1="351.01" y2="352.71" stroke="#8A8A8A" stroke-width="0.95"/>
<rect x="439.88" y="346.33" width="6.87" height="4.68" fill="#E8847A" stroke="#B0504A" stroke-width="0.7"/>
<line x1="439.88" x2="446.76" y1="348.77" y2="348.77" stroke="#8A2E28" stroke-width="1.4"/>
<rect x="449.86" y="296.39" width="2.2" height="27.43" rx="1" fill="#333"/>
<line x1="450.96" x2="450.96" y1="290.75" y2="296.39" stroke="#333" stroke-width="2.1" stroke-dasharray="1.8 0.55"/>
<line x1="450.96" x2="450.96" y1="336.87" y2="323.82" stroke="#8A8A8A" stroke-width="0.95"/>
<line x1="450.96" x2="450.96" y1="345.34" y2="352.71" stroke="#8A8A8A" stroke-width="0.95"/>
<rect x="447.52" y="336.87" width="6.87" height="8.47" fill="#7CAE00" stroke="#5A8000" stroke-width="0.7"/>
<line x1="447.52" x2="454.4" y1="341.15" y2="341.15" stroke="#3E5C00" stroke-width="1.4"/>
<rect x="457.5" y="284.95" width="2.2" height="22.44" rx="1" fill="#333"/>
<line x1="458.6" x2="458.6" y1="280.19" y2="284.95" stroke="#333" stroke-width="2.1" stroke-dasharray="1.8 0.55"/>
<ellipse cx="458.6" cy="258.28" rx="1.1" ry="0.95" fill="#333"/>
<ellipse cx="458.6" cy="262.56" rx="1.1" ry="0.95" fill="#333"/>
<ellipse cx="458.6" cy="266.05" rx="1.1" ry="0.95" fill="#333"/>
<ellipse cx="458.6" cy="270.33" rx="1.1" ry="0.95" fill="#333"/>
<ellipse cx="458.6" cy="274.52" rx="1.1" ry="0.95" fill="#333"/>
<ellipse cx="458.6" cy="277.41" rx="1.1" ry="0.95" fill="#333"/>
<line x1="458.6" x2="458.6" y1="327.21" y2="307.39" stroke="#8A8A8A" stroke-width="0.95"/>
<line x1="458.6" x2="458.6" y1="341.15" y2="352.71" stroke="#8A8A8A" stroke-width="0.95"/>
<rect x="455.16" y="327.21" width="6.87" height="13.94" fill="#E8A50A" stroke="#B08000" stroke-width="0.7"/>
<line x1="455.16" x2="462.03" y1="335.08" y2="335.08" stroke="#7A5500" stroke-width="1.4"/>
<rect x="465.13" y="282.16" width="2.2" height="26.92" rx="1" fill="#333"/>
<line x1="466.23" x2="466.23" y1="276.61" y2="282.16" stroke="#333" stroke-width="2.1" stroke-dasharray="1.8 0.55"/>
<ellipse cx="466.23" cy="253.3" rx="1.1" ry="0.95" fill="#333"/>
<ellipse cx="466.23" cy="260.07" rx="1.1" ry="0.95" fill="#333"/>
<ellipse cx="466.23" cy="268.14" rx="1.1" ry="0.95" fill="#333"/>
<ellipse cx="466.23" cy="273.42" rx="1.1" ry="0.95" fill="#333"/>
<line x1="466.23" x2="466.23" y1="330.1" y2="309.08" stroke="#8A8A8A" stroke-width="0.95"/>
<line x1="466.23" x2="466.23" y1="343.54" y2="352.71" stroke="#8A8A8A" stroke-width="0.95"/>
<rect x="462.8" y="330.1" width="6.87" height="13.45" fill="#D07DB4" stroke="#A05A8A" stroke-width="0.7"/>
<line x1="462.8" x2="469.67" y1="337.47" y2="337.47" stroke="#7A3A68" stroke-width="1.4"/>
<rect x="482.96" y="319.37" width="2.2" height="19.9" rx="1" fill="#333"/>
<line x1="484.06" x2="484.06" y1="315.05" y2="319.37" stroke="#333" stroke-width="2.1" stroke-dasharray="1.8 0.55"/>
<ellipse cx="484.06" cy="303.9" rx="1.1" ry="0.95" fill="#333"/>
<ellipse cx="484.06" cy="311.97" rx="1.1" ry="0.95" fill="#333"/>
<line x1="484.06" x2="484.06" y1="345.64" y2="339.26" stroke="#8A8A8A" stroke-width="0.95"/>
<line x1="484.06" x2="484.06" y1="350.62" y2="352.21" stroke="#8A8A8A" stroke-width="0.95"/>
<rect x="480.62" y="345.64" width="6.87" height="4.98" fill="#E8847A" stroke="#B0504A" stroke-width="0.7"/>
<line x1="480.62" x2="487.49" y1="348.23" y2="348.23" stroke="#8A2E28" stroke-width="1.4"/>
<rect x="490.59" y="294.39" width="2.2" height="27.94" rx="1" fill="#333"/>
<line x1="491.69" x2="491.69" y1="288.66" y2="294.39" stroke="#333" stroke-width="2.1" stroke-dasharray="1.8 0.55"/>
<ellipse cx="491.69" cy="280.89" rx="1.1" ry="0.95" fill="#333"/>
<line x1="491.69" x2="491.69" y1="336.07" y2="322.33" stroke="#8A8A8A" stroke-width="0.95"/>
<line x1="491.69" x2="491.69" y1="344.94" y2="352.71" stroke="#8A8A8A" stroke-width="0.95"/>
<rect x="488.26" y="336.07" width="6.87" height="8.86" fill="#7CAE00" stroke="#5A8000" stroke-width="0.7"/>
<line x1="488.26" x2="495.13" y1="341.15" y2="341.15" stroke="#3E5C00" stroke-width="1.4"/>
<rect x="498.23" y="295.08" width="2.2" height="29.04" rx="1" fill="#333"/>
<line x1="499.33" x2="499.33" y1="289.16" y2="295.08" stroke="#333" stroke-width="2.1" stroke-dasharray="1.8 0.55"/>
<ellipse cx="499.33" cy="280.99" rx="1.1" ry="0.95" fill="#333"/>
<ellipse cx="499.33" cy="282.98" rx="1.1" ry="0.95" fill="#333"/>
<ellipse cx="499.33" cy="284.48" rx="1.1" ry="0.95" fill="#333"/>
<line x1="499.33" x2="499.33" y1="336.87" y2="324.12" stroke="#8A8A8A" stroke-width="0.95"/>
<line x1="499.33" x2="499.33" y1="345.34" y2="352.71" stroke="#8A8A8A" stroke-width="0.95"/>
<rect x="495.9" y="336.87" width="6.87" height="8.47" fill="#E8A50A" stroke="#B08000" stroke-width="0.7"/>
<line x1="495.9" x2="502.77" y1="341.15" y2="341.15" stroke="#7A5500" stroke-width="1.4"/>
<rect x="505.87" y="302.85" width="2.2" height="22.27" rx="1" fill="#333"/>
<line x1="506.97" x2="506.97" y1="298.12" y2="302.85" stroke="#333" stroke-width="2.1" stroke-dasharray="1.8 0.55"/>
<ellipse cx="506.97" cy="281.69" rx="1.1" ry="0.95" fill="#333"/>
<ellipse cx="506.97" cy="285.87" rx="1.1" ry="0.95" fill="#333"/>
<ellipse cx="506.97" cy="295.83" rx="1.1" ry="0.95" fill="#333"/>
<line x1="506.97" x2="506.97" y1="338.27" y2="325.12" stroke="#8A8A8A" stroke-width="0.95"/>
<line x1="506.97" x2="506.97" y1="347.33" y2="352.71" stroke="#8A8A8A" stroke-width="0.95"/>
<rect x="503.53" y="338.27" width="6.87" height="9.06" fill="#D07DB4" stroke="#A05A8A" stroke-width="0.7"/>
<line x1="503.53" x2="510.41" y1="343.15" y2="343.15" stroke="#7A3A68" stroke-width="1.4"/>
<rect x="523.69" y="320.64" width="2.2" height="18.63" rx="1" fill="#333"/>
<line x1="524.79" x2="524.79" y1="316.55" y2="320.64" stroke="#333" stroke-width="2.1" stroke-dasharray="1.8 0.55"/>
<ellipse cx="524.79" cy="312.77" rx="1.1" ry="0.95" fill="#333"/>
<line x1="524.79" x2="524.79" y1="345.64" y2="339.26" stroke="#8A8A8A" stroke-width="0.95"/>
<line x1="524.79" x2="524.79" y1="350.62" y2="352.21" stroke="#8A8A8A" stroke-width="0.95"/>
<rect x="521.36" y="345.64" width="6.87" height="4.98" fill="#E8847A" stroke="#B0504A" stroke-width="0.7"/>
<line x1="521.36" x2="528.23" y1="348.23" y2="348.23" stroke="#8A2E28" stroke-width="1.4"/>
<rect x="531.33" y="295.54" width="2.2" height="25.99" rx="1" fill="#333"/>
<line x1="532.43" x2="532.43" y1="290.15" y2="295.54" stroke="#333" stroke-width="2.1" stroke-dasharray="1.8 0.55"/>
<ellipse cx="532.43" cy="281.69" rx="1.1" ry="0.95" fill="#333"/>
<ellipse cx="532.43" cy="283.98" rx="1.1" ry="0.95" fill="#333"/>
<ellipse cx="532.43" cy="285.97" rx="1.1" ry="0.95" fill="#333"/>
<ellipse cx="532.43" cy="287.27" rx="1.1" ry="0.95" fill="#333"/>
<line x1="532.43" x2="532.43" y1="335.78" y2="321.53" stroke="#8A8A8A" stroke-width="0.95"/>
<line x1="532.43" x2="532.43" y1="344.94" y2="352.71" stroke="#8A8A8A" stroke-width="0.95"/>
<rect x="528.99" y="335.78" width="6.87" height="9.16" fill="#7CAE00" stroke="#5A8000" stroke-width="0.7"/>
<line x1="528.99" x2="535.87" y1="340.66" y2="340.66" stroke="#3E5C00" stroke-width="1.4"/>
<rect x="538.97" y="263.58" width="2.2" height="42.41" rx="1" fill="#333"/>
<line x1="540.07" x2="540.07" y1="256.78" y2="263.58" stroke="#333" stroke-width="2.1" stroke-dasharray="1.8 0.55"/>
<ellipse cx="540.07" cy="241.05" rx="1.1" ry="0.95" fill="#333"/>
<line x1="540.07" x2="540.07" y1="326.51" y2="305.99" stroke="#8A8A8A" stroke-width="0.95"/>
<line x1="540.07" x2="540.07" y1="340.66" y2="352.71" stroke="#8A8A8A" stroke-width="0.95"/>
<rect x="536.63" y="326.51" width="6.87" height="14.14" fill="#E8A50A" stroke="#B08000" stroke-width="0.7"/>
<line x1="536.63" x2="543.51" y1="334.28" y2="334.28" stroke="#7A5500" stroke-width="1.4"/>
<rect x="546.61" y="263.58" width="2.2" height="43.8" rx="1" fill="#333"/>
<line x1="547.71" x2="547.71" y1="256.78" y2="263.58" stroke="#333" stroke-width="2.1" stroke-dasharray="1.8 0.55"/>
<ellipse cx="547.71" cy="226.91" rx="1.1" ry="0.95" fill="#333"/>
<ellipse cx="547.71" cy="236.77" rx="1.1" ry="0.95" fill="#333"/>
<ellipse cx="547.71" cy="244.54" rx="1.1" ry="0.95" fill="#333"/>
<ellipse cx="547.71" cy="254.5" rx="1.1" ry="0.95" fill="#333"/>
<line x1="547.71" x2="547.71" y1="328.4" y2="307.39" stroke="#8A8A8A" stroke-width="0.95"/>
<line x1="547.71" x2="547.71" y1="342.85" y2="352.71" stroke="#8A8A8A" stroke-width="0.95"/>
<rect x="544.27" y="328.4" width="6.87" height="14.44" fill="#D07DB4" stroke="#A05A8A" stroke-width="0.7"/>
<line x1="544.27" x2="551.14" y1="337.17" y2="337.17" stroke="#7A3A68" stroke-width="1.4"/>
<rect x="564.43" y="315.13" width="2.2" height="24.13" rx="1" fill="#333"/>
<line x1="565.53" x2="565.53" y1="310.07" y2="315.13" stroke="#333" stroke-width="2.1" stroke-dasharray="1.8 0.55"/>
<line x1="565.53" x2="565.53" y1="345.64" y2="339.26" stroke="#8A8A8A" stroke-width="0.95"/>
<line x1="565.53" x2="565.53" y1="351.01" y2="352.21" stroke="#8A8A8A" stroke-width="0.95"/>
<rect x="562.09" y="345.64" width="6.87" height="5.38" fill="#E8847A" stroke="#B0504A" stroke-width="0.7"/>
<line x1="562.09" x2="568.97" y1="348.43" y2="348.43" stroke="#8A2E28" stroke-width="1.4"/>
<rect x="572.07" y="288.75" width="2.2" height="32.09" rx="1" fill="#333"/>
<line x1="573.17" x2="573.17" y1="282.28" y2="288.75" stroke="#333" stroke-width="2.1" stroke-dasharray="1.8 0.55"/>
<ellipse cx="573.17" cy="276.31" rx="1.1" ry="0.95" fill="#333"/>
<line x1="573.17" x2="573.17" y1="335.48" y2="320.83" stroke="#8A8A8A" stroke-width="0.95"/>
<line x1="573.17" x2="573.17" y1="345.34" y2="352.71" stroke="#8A8A8A" stroke-width="0.95"/>
<rect x="569.73" y="335.48" width="6.87" height="9.86" fill="#7CAE00" stroke="#5A8000" stroke-width="0.7"/>
<line x1="569.73" x2="576.6" y1="341.15" y2="341.15" stroke="#3E5C00" stroke-width="1.4"/>
<rect x="579.71" y="277.03" width="2.2" height="36.03" rx="1" fill="#333"/>
<line x1="580.81" x2="580.81" y1="270.23" y2="277.03" stroke="#333" stroke-width="2.1" stroke-dasharray="1.8 0.55"/>
<ellipse cx="580.81" cy="257.58" rx="1.1" ry="0.95" fill="#333"/>
<ellipse cx="580.81" cy="264.06" rx="1.1" ry="0.95" fill="#333"/>
<ellipse cx="580.81" cy="266.05" rx="1.1" ry="0.95" fill="#333"/>
<ellipse cx="580.81" cy="268.94" rx="1.1" ry="0.95" fill="#333"/>
<line x1="580.81" x2="580.81" y1="331.19" y2="313.06" stroke="#8A8A8A" stroke-width="0.95"/>
<line x1="580.81" x2="580.81" y1="343.54" y2="352.71" stroke="#8A8A8A" stroke-width="0.95"/>
<rect x="577.37" y="331.19" width="6.87" height="12.35" fill="#E8A50A" stroke="#B08000" stroke-width="0.7"/>
<line x1="577.37" x2="584.24" y1="337.87" y2="337.87" stroke="#7A5500" stroke-width="1.4"/>
<rect x="587.34" y="283.14" width="2.2" height="32.51" rx="1" fill="#333"/>
<line x1="588.44" x2="588.44" y1="276.61" y2="283.14" stroke="#333" stroke-width="2.1" stroke-dasharray="1.8 0.55"/>
<ellipse cx="588.44" cy="252.31" rx="1.1" ry="0.95" fill="#333"/>
<ellipse cx="588.44" cy="265.35" rx="1.1" ry="0.95" fill="#333"/>
<ellipse cx="588.44" cy="267.54" rx="1.1" ry="0.95" fill="#333"/>
<ellipse cx="588.44" cy="270.04" rx="1.1" ry="0.95" fill="#333"/>
<ellipse cx="588.44" cy="273.12" rx="1.1" ry="0.95" fill="#333"/>
<line x1="588.44" x2="588.44" y1="332.89" y2="315.65" stroke="#8A8A8A" stroke-width="0.95"/>
<line x1="588.44" x2="588.44" y1="345.94" y2="352.71" stroke="#8A8A8A" stroke-width="0.95"/>
<rect x="585.01" y="332.89" width="6.87" height="13.05" fill="#D07DB4" stroke="#A05A8A" stroke-width="0.7"/>
<line x1="585.01" x2="591.88" y1="340.26" y2="340.26" stroke="#7A3A68" stroke-width="1.4"/>
<rect x="605.17" y="319.82" width="2.2" height="17.95" rx="1" fill="#333"/>
<line x1="606.27" x2="606.27" y1="315.85" y2="319.82" stroke="#333" stroke-width="2.1" stroke-dasharray="1.8 0.55"/>
<ellipse cx="606.27" cy="297.23" rx="1.1" ry="0.95" fill="#333"/>
<ellipse cx="606.27" cy="308.88" rx="1.1" ry="0.95" fill="#333"/>
<ellipse cx="606.27" cy="310.97" rx="1.1" ry="0.95" fill="#333"/>
<line x1="606.27" x2="606.27" y1="344.94" y2="337.77" stroke="#8A8A8A" stroke-width="0.95"/>
<line x1="606.27" x2="606.27" y1="350.62" y2="352.21" stroke="#8A8A8A" stroke-width="0.95"/>
<rect x="602.83" y="344.94" width="6.87" height="5.68" fill="#E8847A" stroke="#B0504A" stroke-width="0.7"/>
<line x1="602.83" x2="609.7" y1="347.88" y2="347.88" stroke="#8A2E28" stroke-width="1.4"/>
<rect x="612.8" y="287.88" width="2.2" height="31.16" rx="1" fill="#333"/>
<line x1="613.9" x2="613.9" y1="281.59" y2="287.88" stroke="#333" stroke-width="2.1" stroke-dasharray="1.8 0.55"/>
<ellipse cx="613.9" cy="261.57" rx="1.1" ry="0.95" fill="#333"/>
<ellipse cx="613.9" cy="267.25" rx="1.1" ry="0.95" fill="#333"/>
<ellipse cx="613.9" cy="271.43" rx="1.1" ry="0.95" fill="#333"/>
<line x1="613.9" x2="613.9" y1="334.08" y2="319.04" stroke="#8A8A8A" stroke-width="0.95"/>
<line x1="613.9" x2="613.9" y1="344.54" y2="352.71" stroke="#8A8A8A" stroke-width="0.95"/>
<rect x="610.47" y="334.08" width="6.87" height="10.46" fill="#7CAE00" stroke="#5A8000" stroke-width="0.7"/>
<line x1="610.47" x2="617.34" y1="339.96" y2="339.96" stroke="#3E5C00" stroke-width="1.4"/>
<rect x="620.44" y="288.82" width="2.2" height="28.53" rx="1" fill="#333"/>
<line x1="621.54" x2="621.54" y1="282.98" y2="288.82" stroke="#333" stroke-width="2.1" stroke-dasharray="1.8 0.55"/>
<ellipse cx="621.54" cy="253.3" rx="1.1" ry="0.95" fill="#333"/>
<ellipse cx="621.54" cy="258.98" rx="1.1" ry="0.95" fill="#333"/>
<ellipse cx="621.54" cy="262.96" rx="1.1" ry="0.95" fill="#333"/>
<ellipse cx="621.54" cy="272.43" rx="1.1" ry="0.95" fill="#333"/>
<ellipse cx="621.54" cy="276.31" rx="1.1" ry="0.95" fill="#333"/>
<line x1="621.54" x2="621.54" y1="333.58" y2="317.35" stroke="#8A8A8A" stroke-width="0.95"/>
<line x1="621.54" x2="621.54" y1="344.24" y2="352.71" stroke="#8A8A8A" stroke-width="0.95"/>
<rect x="618.1" y="333.58" width="6.87" height="10.66" fill="#E8A50A" stroke="#B08000" stroke-width="0.7"/>
<line x1="618.1" x2="624.98" y1="339.26" y2="339.26" stroke="#7A5500" stroke-width="1.4"/>
<rect x="628.08" y="291.05" width="2.2" height="28.79" rx="1" fill="#333"/>
<line x1="629.18" x2="629.18" y1="285.17" y2="291.05" stroke="#333" stroke-width="2.1" stroke-dasharray="1.8 0.55"/>
<ellipse cx="629.18" cy="275.71" rx="1.1" ry="0.95" fill="#333"/>
<ellipse cx="629.18" cy="278" rx="1.1" ry="0.95" fill="#333"/>
<ellipse cx="629.18" cy="280" rx="1.1" ry="0.95" fill="#333"/>
<ellipse cx="629.18" cy="281.69" rx="1.1" ry="0.95" fill="#333"/>
<line x1="629.18" x2="629.18" y1="335.08" y2="319.84" stroke="#8A8A8A" stroke-width="0.95"/>
<line x1="629.18" x2="629.18" y1="345.94" y2="352.71" stroke="#8A8A8A" stroke-width="0.95"/>
<rect x="625.74" y="335.08" width="6.87" height="10.86" fill="#D07DB4" stroke="#A05A8A" stroke-width="0.7"/>
<line x1="625.74" x2="632.62" y1="341.15" y2="341.15" stroke="#7A3A68" stroke-width="1.4"/>
<rect x="645.9" y="322.13" width="2.2" height="18.13" rx="1" fill="#333"/>
<line x1="647" x2="647" y1="346.63" y2="340.26" stroke="#8A8A8A" stroke-width="0.95"/>
<line x1="647" x2="647" y1="350.62" y2="352.21" stroke="#8A8A8A" stroke-width="0.95"/>
<rect x="643.56" y="346.63" width="6.87" height="3.98" fill="#E8847A" stroke="#B0504A" stroke-width="0.7"/>
<line x1="643.56" x2="650.44" y1="348.72" y2="348.72" stroke="#8A2E28" stroke-width="1.4"/>
<rect x="653.54" y="302.53" width="2.2" height="22.69" rx="1" fill="#333"/>
<line x1="654.64" x2="654.64" y1="297.72" y2="302.53" stroke="#333" stroke-width="2.1" stroke-dasharray="1.8 0.55"/>
<line x1="654.64" x2="654.64" y1="337.17" y2="325.22" stroke="#8A8A8A" stroke-width="0.95"/>
<line x1="654.64" x2="654.64" y1="345.84" y2="353.21" stroke="#8A8A8A" stroke-width="0.95"/>
<rect x="651.2" y="337.17" width="6.87" height="8.67" fill="#7CAE00" stroke="#5A8000" stroke-width="0.7"/>
<line x1="651.2" x2="658.08" y1="342.25" y2="342.25" stroke="#3E5C00" stroke-width="1.4"/>
<rect x="661.18" y="302.9" width="2.2" height="21.42" rx="1" fill="#333"/>
<line x1="662.28" x2="662.28" y1="298.32" y2="302.9" stroke="#333" stroke-width="2.1" stroke-dasharray="1.8 0.55"/>
<line x1="662.28" x2="662.28" y1="337.17" y2="324.32" stroke="#8A8A8A" stroke-width="0.95"/>
<line x1="662.28" x2="662.28" y1="345.24" y2="353.21" stroke="#8A8A8A" stroke-width="0.95"/>
<rect x="658.84" y="337.17" width="6.87" height="8.07" fill="#E8A50A" stroke="#B08000" stroke-width="0.7"/>
<line x1="658.84" x2="665.71" y1="342.25" y2="342.25" stroke="#7A5500" stroke-width="1.4"/>
<rect x="668.82" y="308.08" width="2.2" height="18.73" rx="1" fill="#333"/>
<ellipse cx="669.92" cy="305.1" rx="1.1" ry="0.95" fill="#333"/>
<line x1="669.92" x2="669.92" y1="338.66" y2="326.81" stroke="#8A8A8A" stroke-width="0.95"/>
<line x1="669.92" x2="669.92" y1="347.23" y2="353.21" stroke="#8A8A8A" stroke-width="0.95"/>
<rect x="666.48" y="338.66" width="6.87" height="8.57" fill="#D07DB4" stroke="#A05A8A" stroke-width="0.7"/>
<line x1="666.48" x2="673.35" y1="343.25" y2="343.25" stroke="#7A3A68" stroke-width="1.4"/>
<line x1="389.6" x2="682.9" y1="314.5" y2="314.5" stroke="#4A4A9E" stroke-width="1.0" stroke-dasharray="3.1 3.156"/>
<line x1="389.6" x2="682.9" y1="323.5" y2="323.5" stroke="#E0C474" stroke-width="1.0" stroke-dasharray="3.1 3.156"/>
<line x1="389.6" x2="682.9" y1="354.5" y2="354.5" stroke="#4A4A9E" stroke-width="1.0" stroke-dasharray="3.1 3.156"/>
<line x1="389.6" x2="682.9" y1="220.8" y2="220.8" stroke="#9A9A9A" stroke-width="0.9"/>
<line x1="682.9" x2="682.9" y1="220.8" y2="360.5" stroke="#727272" stroke-width="1.05"/>
<line x1="389.9" x2="389.9" y1="220.8" y2="360.5" stroke="#707070" stroke-width="1.1"/>
<line x1="389.6" x2="682.9" y1="360.5" y2="360.5" stroke="#6E6E6E" stroke-width="1.1"/>
<line x1="387.2" x2="389.6" y1="354.8" y2="354.8" stroke="#444" stroke-width="0.9"/>
<text transform="translate(384.8,358.2) scale(1,1.12)" font-size="7.6" fill="#4D4D4D" stroke="#4D4D4D" stroke-width="0.18" text-anchor="end">0</text>
<line x1="387.2" x2="389.6" y1="304.2" y2="304.2" stroke="#444" stroke-width="0.9"/>
<text transform="translate(384.8,307.6) scale(1,1.12)" font-size="7.6" fill="#4D4D4D" stroke="#4D4D4D" stroke-width="0.18" text-anchor="end">50</text>
<line x1="387.2" x2="389.6" y1="253.6" y2="253.6" stroke="#444" stroke-width="0.9"/>
<text transform="translate(384.8,257) scale(1,1.12)" font-size="7.6" fill="#4D4D4D" stroke="#4D4D4D" stroke-width="0.18" text-anchor="end">100</text>
<line x1="414.04" x2="414.04" y1="360.5" y2="362.9" stroke="#444" stroke-width="0.9"/>
<text transform="translate(414.04,371.8) scale(1,1.12)" font-size="7.35" fill="#4D4D4D" stroke="#4D4D4D" stroke-width="0.18" text-anchor="middle">15-&lt;20kg</text>
<line x1="454.78" x2="454.78" y1="360.5" y2="362.9" stroke="#444" stroke-width="0.9"/>
<text transform="translate(454.78,371.8) scale(1,1.12)" font-size="7.35" fill="#4D4D4D" stroke="#4D4D4D" stroke-width="0.18" text-anchor="middle">20-&lt;30kg</text>
<line x1="495.51" x2="495.51" y1="360.5" y2="362.9" stroke="#444" stroke-width="0.9"/>
<text transform="translate(495.51,371.8) scale(1,1.12)" font-size="7.35" fill="#4D4D4D" stroke="#4D4D4D" stroke-width="0.18" text-anchor="middle">30-&lt;40kg</text>
<line x1="536.25" x2="536.25" y1="360.5" y2="362.9" stroke="#444" stroke-width="0.9"/>
<text transform="translate(536.25,371.8) scale(1,1.12)" font-size="7.35" fill="#4D4D4D" stroke="#4D4D4D" stroke-width="0.18" text-anchor="middle">40-&lt;50kg</text>
<line x1="576.99" x2="576.99" y1="360.5" y2="362.9" stroke="#444" stroke-width="0.9"/>
<text transform="translate(576.99,371.8) scale(1,1.12)" font-size="7.35" fill="#4D4D4D" stroke="#4D4D4D" stroke-width="0.18" text-anchor="middle">50-&lt;60kg</text>
<line x1="617.72" x2="617.72" y1="360.5" y2="362.9" stroke="#444" stroke-width="0.9"/>
<text transform="translate(617.72,371.8) scale(1,1.12)" font-size="7.35" fill="#4D4D4D" stroke="#4D4D4D" stroke-width="0.18" text-anchor="middle">60-&lt;80kg</text>
<line x1="658.46" x2="658.46" y1="360.5" y2="362.9" stroke="#444" stroke-width="0.9"/>
<text transform="translate(658.46,371.8) scale(1,1.12)" font-size="7.35" fill="#4D4D4D" stroke="#4D4D4D" stroke-width="0.18" text-anchor="middle">&gt;=80kg</text>
<text x="536.25" y="381.6" font-size="8.3" fill="#1A1A1A" stroke="#1A1A1A" stroke-width="0.15" text-anchor="middle">Body Weight Groups</text>
<text transform="translate(368.1,290.65) rotate(-90)" x="0" y="0" font-size="8.4" fill="#1A1A1A" stroke="#1A1A1A" stroke-width="0.15" text-anchor="middle">Trough Conc. at Steady-State (mcg/mL)</text>
<text transform="translate(347.3,233.6) scale(0.97,1)" font-size="14" fill="#111" stroke="#111" stroke-width="0.25">D</text>
<line x1="416.35" x2="416.35" y1="399.8" y2="406.8" stroke="#AAA" stroke-width="0.6"/>
<rect x="412.8" y="400.8" width="7.1" height="5" fill="#D7746C" stroke="#B0504A" stroke-width="0.4"/>
<text transform="translate(426,407.3) scale(1,1.1)" font-size="8.15" fill="#1A1A1A" stroke="#1A1A1A" stroke-width="0.15">Studied M-SD (0.6mg/kg EOW)</text>
<line x1="548.85" x2="548.85" y1="399.8" y2="406.8" stroke="#AAA" stroke-width="0.6"/>
<rect x="545.3" y="400.8" width="7.1" height="5" fill="#72A000" stroke="#5A8000" stroke-width="0.4"/>
<text transform="translate(559,407.3) scale(1,1.1)" font-size="8.15" fill="#1A1A1A" stroke="#1A1A1A" stroke-width="0.15">Studied M-HD (0.6mg/kg EW)</text>
<line x1="416.35" x2="416.35" y1="412.6" y2="419.6" stroke="#AAA" stroke-width="0.6"/>
<rect x="412.8" y="413.6" width="7.1" height="5" fill="#D79A07" stroke="#B08000" stroke-width="0.4"/>
<text transform="translate(426,420.1) scale(1,1.1)" font-size="7.85" fill="#1A1A1A" stroke="#1A1A1A" stroke-width="0.15">FDA Evaluated EW</text>
<line x1="548.85" x2="548.85" y1="412.6" y2="419.6" stroke="#AAA" stroke-width="0.6"/>
<rect x="545.3" y="413.6" width="7.1" height="5" fill="#C272A7" stroke="#A05A8A" stroke-width="0.4"/>
<text transform="translate(559,420.1) scale(1,1.1)" font-size="8.1" fill="#1A1A1A" stroke="#1A1A1A" stroke-width="0.15">FDA Evaluated EOW</text>
</svg></body></html>
